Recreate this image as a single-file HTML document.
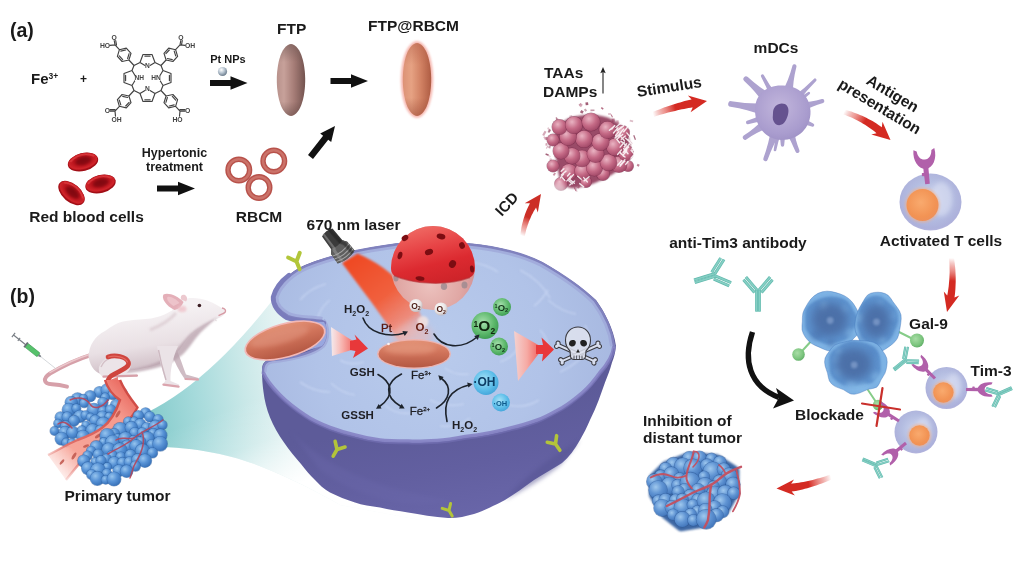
<!DOCTYPE html>
<html lang="en"><head><meta charset="utf-8"><title>FTP@RBCM scheme</title>
<style>
html,body{margin:0;padding:0;background:#fff;}
body{width:1024px;height:561px;overflow:hidden;}
svg{display:block;font-family:"Liberation Sans",sans-serif;}
</style></head><body>
<svg width="1024" height="561" viewBox="0 0 1024 561">
<defs>
<filter id="gsoft" color-interpolation-filters="sRGB" x="0" y="0" width="1024" height="561" filterUnits="userSpaceOnUse"><feGaussianBlur stdDeviation="0.45"/></filter>
<linearGradient id="ftpG" x1="0" y1="0" x2="1" y2="0">
<stop offset="0" stop-color="#b8928c"/><stop offset="0.25" stop-color="#c7a19a"/><stop offset="0.6" stop-color="#a67d77"/><stop offset="1" stop-color="#73534f"/></linearGradient>
<linearGradient id="ftpV" x1="0" y1="0" x2="0" y2="1">
<stop offset="0" stop-color="#6a5350" stop-opacity="0.55"/><stop offset="0.25" stop-color="#6a5350" stop-opacity="0"/><stop offset="0.8" stop-color="#5a3f3c" stop-opacity="0"/><stop offset="1" stop-color="#5a3f3c" stop-opacity="0.5"/></linearGradient>
<linearGradient id="frG" x1="0" y1="0" x2="1" y2="0">
<stop offset="0" stop-color="#dc9276"/><stop offset="0.3" stop-color="#e6a283"/><stop offset="0.65" stop-color="#d08062"/><stop offset="1" stop-color="#ae5c43"/></linearGradient>
<linearGradient id="frV" x1="0" y1="0" x2="0" y2="1">
<stop offset="0" stop-color="#b5604a" stop-opacity="0.5"/><stop offset="0.3" stop-color="#b5604a" stop-opacity="0"/><stop offset="0.75" stop-color="#9c4a36" stop-opacity="0"/><stop offset="1" stop-color="#9c4a36" stop-opacity="0.55"/></linearGradient>
<radialGradient id="ptG" cx="0.38" cy="0.32" r="0.75">
<stop offset="0" stop-color="#ffffff"/><stop offset="0.45" stop-color="#b9c6d2"/><stop offset="1" stop-color="#5e6f80"/></radialGradient>
<radialGradient id="rbcG" cx="0.5" cy="0.42" r="0.62">
<stop offset="0" stop-color="#8d0a12"/><stop offset="0.45" stop-color="#b5121b"/><stop offset="0.8" stop-color="#d0242a"/><stop offset="1" stop-color="#a30f17"/></radialGradient>
<filter id="soft" color-interpolation-filters="sRGB" x="-20%" y="-20%" width="140%" height="140%"><feGaussianBlur stdDeviation="0.5"/></filter>
<filter id="soft1" color-interpolation-filters="sRGB" x="-20%" y="-20%" width="140%" height="140%"><feGaussianBlur stdDeviation="1"/></filter>
<filter id="soft2" color-interpolation-filters="sRGB" x="-30%" y="-30%" width="160%" height="160%"><feGaussianBlur stdDeviation="2"/></filter>
<filter id="soft4" color-interpolation-filters="sRGB" x="-40%" y="-40%" width="180%" height="180%"><feGaussianBlur stdDeviation="4"/></filter>
<linearGradient id="coneG" gradientUnits="userSpaceOnUse" x1="150" y1="430" x2="345" y2="400">
<stop offset="0" stop-color="#84cbcb"/><stop offset="0.25" stop-color="#a5dadb"/><stop offset="0.5" stop-color="#c9e8e8"/><stop offset="0.7" stop-color="#e2f2f2"/><stop offset="1" stop-color="#f6fbfb"/></linearGradient>
<linearGradient id="coneFade" gradientUnits="userSpaceOnUse" x1="262" y1="395" x2="296" y2="485">
<stop offset="0" stop-color="#fff" stop-opacity="0"/><stop offset="0.45" stop-color="#fff" stop-opacity="0.2"/><stop offset="1" stop-color="#fff" stop-opacity="1"/></linearGradient>
<linearGradient id="bodyG" gradientUnits="userSpaceOnUse" x1="420" y1="420" x2="440" y2="525">
<stop offset="0" stop-color="#5d5b99"/><stop offset="0.5" stop-color="#625fa0"/><stop offset="1" stop-color="#6966a9"/></linearGradient>
<radialGradient id="surfG" gradientUnits="userSpaceOnUse" cx="430" cy="350" r="190">
<stop offset="0" stop-color="#b9cbec"/><stop offset="0.6" stop-color="#b1c3e8"/><stop offset="1" stop-color="#a7b8e0"/></radialGradient>
<linearGradient id="sphG" gradientUnits="userSpaceOnUse" x1="425" y1="226" x2="440" y2="285">
<stop offset="0" stop-color="#ef6862"/><stop offset="0.35" stop-color="#e74446"/><stop offset="0.65" stop-color="#dc2a30"/><stop offset="1" stop-color="#cd2329"/></linearGradient>
<radialGradient id="sphLow" gradientUnits="userSpaceOnUse" cx="430" cy="285" r="45">
<stop offset="0" stop-color="#ecc2be"/><stop offset="0.7" stop-color="#e0a7a4"/><stop offset="1" stop-color="#d49496"/></radialGradient>
<linearGradient id="beamG" gradientUnits="userSpaceOnUse" x1="349" y1="258" x2="414" y2="340">
<stop offset="0" stop-color="#ef4822"/><stop offset="0.5" stop-color="#f0603e"/><stop offset="0.8" stop-color="#f28672" stop-opacity="0.9"/><stop offset="1" stop-color="#f5b0a8" stop-opacity="0"/></linearGradient>
<linearGradient id="lasG" gradientUnits="userSpaceOnUse" x1="0" y1="0" x2="20" y2="0">
<stop offset="0" stop-color="#2c2c2c"/><stop offset="0.35" stop-color="#707070"/><stop offset="0.6" stop-color="#4a4a4a"/><stop offset="1" stop-color="#1e1e1e"/></linearGradient>
<linearGradient id="npH" x1="0" y1="0" x2="0" y2="1">
<stop offset="0" stop-color="#e29074"/><stop offset="0.45" stop-color="#d0735a"/><stop offset="1" stop-color="#b45843"/></linearGradient>
<radialGradient id="bubW" cx="0.4" cy="0.35" r="0.7">
<stop offset="0" stop-color="#ffffff"/><stop offset="0.6" stop-color="#e9e4e4"/><stop offset="1" stop-color="#b9b0b4"/></radialGradient>
<radialGradient id="bubG" cx="0.42" cy="0.38" r="0.7">
<stop offset="0" stop-color="#a6dfad"/><stop offset="0.6" stop-color="#5cb86b"/><stop offset="1" stop-color="#36954d"/></radialGradient>
<radialGradient id="bubB" cx="0.42" cy="0.38" r="0.7">
<stop offset="0" stop-color="#a6e2f7"/><stop offset="0.6" stop-color="#5cbde9"/><stop offset="1" stop-color="#3d9fd6"/></radialGradient>
<linearGradient id="coneR1" gradientUnits="userSpaceOnUse" x1="328" y1="0" x2="368" y2="0">
<stop offset="0" stop-color="#ffffff" stop-opacity="0.85"/><stop offset="0.35" stop-color="#f7b3ae"/><stop offset="0.7" stop-color="#ef5c58"/><stop offset="1" stop-color="#e8383a"/></linearGradient>
<linearGradient id="coneR2" gradientUnits="userSpaceOnUse" x1="513" y1="0" x2="553" y2="0">
<stop offset="0" stop-color="#fbd5d0" stop-opacity="0.9"/><stop offset="0.35" stop-color="#f6aaa4"/><stop offset="0.7" stop-color="#ef5c58"/><stop offset="1" stop-color="#e8383a"/></linearGradient>
<clipPath id="surfClip"><path d="M263,372 C263,364 266,361 272,360 C290,358 312,354 322,345 C327,339 327,327 322,321 C312,319 297,320 288,316 C279,311 274,304 274.5,297 C279,283 292,272 306,266 C330,256 365,248.5 396,244.5 C420,242 450,242 470,244.5 C500,247.5 526,255 542,263 C563,275 583,289 595,301 C603,312 612,328 614,346 C613,356 606,366 600,372.5 C594,381 589,387 582.5,392.5 C576,398 570,403 562.5,407.5 C554,412 546,417 537.5,420 C529,423 520,426 512.5,427.5 C500,431 480,435 465.5,436.5 C455,438.5 446,440 437,440.5 C428,441 418,441.5 408.5,441 C398,441 388,441 380,440 C371,439 362,437 355,435 C346,433 338,430.5 330,427.5 C321,424 312,420 305,415 C296,409 287,402 280,395 C273,388 266,380 263,372 Z"/></clipPath>
<radialGradient id="tbG" cx="0.36" cy="0.32" r="0.8">
<stop offset="0" stop-color="#96c4ee"/><stop offset="0.45" stop-color="#5893d6"/><stop offset="0.85" stop-color="#3a74bb"/><stop offset="1" stop-color="#2b5c9c"/></radialGradient>
<radialGradient id="tpG" cx="0.38" cy="0.32" r="0.8">
<stop offset="0" stop-color="#e9b3c2"/><stop offset="0.5" stop-color="#c56a86"/><stop offset="1" stop-color="#963e5e"/></radialGradient>
<linearGradient id="mouseG" gradientUnits="userSpaceOnUse" x1="130" y1="315" x2="140" y2="380">
<stop offset="0" stop-color="#f5f1f3"/><stop offset="0.5" stop-color="#e9e0e4"/><stop offset="1" stop-color="#c5b0b9"/></linearGradient>
<linearGradient id="vesG" gradientUnits="userSpaceOnUse" x1="135" y1="395" x2="50" y2="475">
<stop offset="0" stop-color="#ea6a60"/><stop offset="0.22" stop-color="#f59a8e"/><stop offset="0.7" stop-color="#f7a599"/><stop offset="1" stop-color="#f9b9b0" stop-opacity="0"/></linearGradient>
<linearGradient id="vesE" gradientUnits="userSpaceOnUse" x1="135" y1="395" x2="50" y2="475">
<stop offset="0" stop-color="#cf4a44"/><stop offset="0.7" stop-color="#e0706a"/><stop offset="1" stop-color="#ea8f88" stop-opacity="0"/></linearGradient>
<radialGradient id="dcG" cx="0.45" cy="0.4" r="0.7">
<stop offset="0" stop-color="#c2b6dc"/><stop offset="0.7" stop-color="#a99cce"/><stop offset="1" stop-color="#9a8dc2"/></radialGradient>
<radialGradient id="tcG" cx="0.5" cy="0.45" r="0.6">
<stop offset="0" stop-color="#ced5ee"/><stop offset="0.55" stop-color="#b4bde1"/><stop offset="0.85" stop-color="#adb1db"/><stop offset="1" stop-color="#bcb7e0"/></radialGradient>
<radialGradient id="nuG" cx="0.45" cy="0.42" r="0.65">
<stop offset="0" stop-color="#f9aa6e"/><stop offset="0.7" stop-color="#f29354"/><stop offset="1" stop-color="#ec8f5c"/></radialGradient>
<radialGradient id="bcG" cx="0.45" cy="0.4" r="0.7">
<stop offset="0" stop-color="#4a7fc4"/><stop offset="0.25" stop-color="#3c72bb"/><stop offset="0.6" stop-color="#4f90d6"/><stop offset="0.9" stop-color="#5fa2e2"/><stop offset="1" stop-color="#4784cc"/></radialGradient>
<radialGradient id="tbG2" cx="0.38" cy="0.34" r="0.8">
<stop offset="0" stop-color="#9fc8ee"/><stop offset="0.45" stop-color="#6094d3"/><stop offset="0.85" stop-color="#4377bc"/><stop offset="1" stop-color="#32609f"/></radialGradient>
<radialGradient id="gbG" cx="0.4" cy="0.38" r="0.7">
<stop offset="0" stop-color="#a8dda6"/><stop offset="0.65" stop-color="#7cc57e"/><stop offset="1" stop-color="#5aa862"/></radialGradient>
<linearGradient id="ra1" gradientUnits="userSpaceOnUse" x1="522.5" y1="236" x2="541" y2="194"><stop offset="0" stop-color="#cc2e26" stop-opacity="0"/><stop offset="0.2" stop-color="#e25a52" stop-opacity="0.6"/><stop offset="0.42" stop-color="#cc2e26"/><stop offset="1" stop-color="#cc2e26"/></linearGradient>
<linearGradient id="ra2" gradientUnits="userSpaceOnUse" x1="653" y1="114.5" x2="707" y2="101"><stop offset="0" stop-color="#d42a22" stop-opacity="0"/><stop offset="0.2" stop-color="#e25a52" stop-opacity="0.6"/><stop offset="0.42" stop-color="#d42a22"/><stop offset="1" stop-color="#d42a22"/></linearGradient>
<linearGradient id="ra3" gradientUnits="userSpaceOnUse" x1="844" y1="112" x2="890.5" y2="140"><stop offset="0" stop-color="#d42a22" stop-opacity="0"/><stop offset="0.2" stop-color="#e25a52" stop-opacity="0.6"/><stop offset="0.42" stop-color="#d42a22"/><stop offset="1" stop-color="#d42a22"/></linearGradient>
<linearGradient id="ra4" gradientUnits="userSpaceOnUse" x1="951.5" y1="258" x2="947" y2="312"><stop offset="0" stop-color="#d42a22" stop-opacity="0"/><stop offset="0.2" stop-color="#e25a52" stop-opacity="0.6"/><stop offset="0.42" stop-color="#d42a22"/><stop offset="1" stop-color="#d42a22"/></linearGradient>
<linearGradient id="ra5" gradientUnits="userSpaceOnUse" x1="831" y1="477" x2="776.5" y2="488.5"><stop offset="0" stop-color="#d42a22" stop-opacity="0"/><stop offset="0.2" stop-color="#e25a52" stop-opacity="0.6"/><stop offset="0.42" stop-color="#d42a22"/><stop offset="1" stop-color="#d42a22"/></linearGradient>
<clipPath id="bc6"><path d="M862.1,317.7 Q865.1,321.5 864.4,325.9 Q863.7,330.3 859.8,333.1 Q855.8,336.0 853.2,338.9 Q850.6,341.9 847.9,345.6 Q845.3,349.4 840.8,350.4 Q836.3,351.4 831.7,351.2 Q827.2,351.0 823.2,349.0 Q819.2,347.0 815.1,345.4 Q811.0,343.8 808.1,340.6 Q805.1,337.5 803.3,333.6 Q801.5,329.8 802.0,325.6 Q802.5,321.5 802.4,317.5 Q802.3,313.4 804.2,309.8 Q806.1,306.1 808.4,302.4 Q810.6,298.8 814.2,295.8 Q817.7,292.9 822.3,291.8 Q827.0,290.6 831.5,291.6 Q836.1,292.6 840.3,294.0 Q844.5,295.4 847.8,297.9 Q851.2,300.4 853.5,303.8 Q855.7,307.1 857.4,310.5 Q859.1,314.0 862.1,317.7 Z"/></clipPath>
<clipPath id="bc7"><path d="M901.2,318.8 Q900.9,323.0 900.2,326.9 Q899.5,330.8 898.7,334.7 Q897.8,338.7 895.3,341.3 Q892.8,344.0 890.0,345.9 Q887.2,347.9 884.3,349.8 Q881.4,351.7 877.9,353.0 Q874.3,354.3 870.9,352.7 Q867.5,351.2 864.5,348.8 Q861.6,346.3 860.2,342.2 Q858.8,338.2 856.8,334.8 Q854.8,331.4 854.9,327.2 Q854.9,323.0 855.6,319.1 Q856.3,315.2 857.7,311.6 Q859.2,308.1 861.1,305.0 Q863.0,301.8 865.2,298.0 Q867.3,294.2 870.8,293.2 Q874.4,292.2 878.0,292.2 Q881.6,292.3 885.0,293.5 Q888.5,294.8 890.7,298.3 Q892.9,301.9 895.2,304.7 Q897.5,307.6 899.5,311.0 Q901.5,314.5 901.2,318.8 Z"/></clipPath>
<clipPath id="bc8"><path d="M887.2,361.9 Q887.0,366.0 886.1,369.8 Q885.3,373.6 882.9,376.8 Q880.6,380.0 879.1,384.0 Q877.6,388.1 872.7,388.5 Q867.7,388.9 863.9,391.1 Q860.2,393.2 855.5,394.1 Q850.9,395.1 847.2,392.1 Q843.5,389.2 839.2,388.1 Q834.9,387.0 831.8,384.1 Q828.7,381.2 828.3,377.2 Q827.8,373.1 826.3,369.6 Q824.8,366.0 824.6,362.0 Q824.4,358.0 826.9,354.6 Q829.4,351.3 831.8,347.8 Q834.3,344.4 838.8,343.4 Q843.4,342.4 847.4,341.2 Q851.4,340.0 855.7,340.3 Q859.9,340.6 864.3,340.8 Q868.8,341.0 873.3,342.3 Q877.8,343.7 880.2,347.3 Q882.6,350.9 885.0,354.4 Q887.3,357.9 887.2,361.9 Z"/></clipPath>
</defs>
<rect width="1024" height="561" fill="#ffffff"/>
<g filter="url(#gsoft)">
<!-- section a -->
<g><path d="M147.5,67.0L140.0,62.5 M147.5,67.0L155.0,62.5 M140.0,62.5L143.0,54.5 M155.0,62.5L152.0,54.5 M143.0,54.5L152.0,54.5 M144.8,56.1L150.2,56.1 M147.5,89.0L155.0,93.5 M147.5,89.0L140.0,93.5 M155.0,93.5L152.0,101.5 M140.0,93.5L143.0,101.5 M152.0,101.5L143.0,101.5 M150.2,99.9L144.8,99.9 M136.5,78.0L132.0,85.5 M136.5,78.0L132.0,70.5 M132.0,85.5L124.0,82.5 M132.0,70.5L124.0,73.5 M124.0,82.5L124.0,73.5 M125.6,80.7L125.6,75.3 M158.5,78.0L163.0,70.5 M158.5,78.0L163.0,85.5 M163.0,70.5L171.0,73.5 M163.0,85.5L171.0,82.5 M171.0,73.5L171.0,82.5 M169.4,75.3L169.4,80.7 M140.0,62.5L134.0,65.5 M155.0,62.5L161.0,65.5 M155.0,93.5L161.0,90.5 M140.0,93.5L134.0,90.5 M132.0,85.5L134.0,90.5 M132.0,70.5L134.0,65.5 M163.0,70.5L161.0,65.5 M163.0,85.5L161.0,90.5 M119.4,49.7L126.3,48.1 M126.3,48.1L131.0,53.3 M131.0,53.3L128.9,60.0 M128.9,60.0L122.1,61.5 M122.1,61.5L117.4,56.4 M117.4,56.4L119.4,49.7 M120.8,51.1L125.7,50.0 M129.1,53.7L127.6,58.5 M122.7,59.6L119.3,55.9 M134.0,65.5L128.9,60.0 M119.4,49.7L115.0,44.9 M115.0,44.9L114.2,40.5 M116.5,44.9L115.7,40.5 M115.0,44.9L110.0,45.4 M175.6,49.7L177.6,56.4 M177.6,56.4L172.9,61.5 M172.9,61.5L166.1,60.0 M166.1,60.0L164.0,53.3 M164.0,53.3L168.7,48.1 M168.7,48.1L175.6,49.7 M174.2,51.1L175.7,55.9 M172.3,59.6L167.4,58.5 M165.9,53.7L169.3,50.0 M161.0,65.5L166.1,60.0 M175.6,49.7L180.0,44.9 M180.0,44.9L180.8,40.5 M181.5,44.9L182.3,40.5 M180.0,44.9L185.0,45.4 M175.6,106.3L168.7,107.9 M168.7,107.9L164.0,102.7 M164.0,102.7L166.1,96.0 M166.1,96.0L172.9,94.5 M172.9,94.5L177.6,99.6 M177.6,99.6L175.6,106.3 M174.2,104.9L169.3,106.0 M165.9,102.3L167.4,97.5 M172.3,96.4L175.7,100.1 M161.0,90.5L166.1,96.0 M175.6,106.3L180.0,111.1 M180.0,111.1L185.0,111.1 M180.0,109.6L185.0,109.6 M180.0,111.1L179.5,116.1 M119.4,106.3L117.4,99.6 M117.4,99.6L122.1,94.5 M122.1,94.5L128.9,96.0 M128.9,96.0L131.0,102.7 M131.0,102.7L126.3,107.9 M126.3,107.9L119.4,106.3 M120.8,104.9L119.3,100.1 M122.7,96.4L127.6,97.5 M129.1,102.3L125.7,106.0 M134.0,90.5L128.9,96.0 M119.4,106.3L115.0,111.1 M115.0,111.1L110.0,111.1 M115.0,109.6L110.0,109.6 M115.0,111.1L115.5,116.1" stroke="#424242" stroke-width="1.15" fill="none" stroke-linecap="round"/><text x="114.2" y="39.5" font-size="6.8" font-weight="bold" text-anchor="middle" fill="#424242">O</text><text x="105.0" y="47.5" font-size="6.8" font-weight="bold" text-anchor="middle" fill="#424242">HO</text><text x="180.8" y="39.5" font-size="6.8" font-weight="bold" text-anchor="middle" fill="#424242">O</text><text x="190.0" y="47.5" font-size="6.8" font-weight="bold" text-anchor="middle" fill="#424242">OH</text><text x="187.6" y="112.7" font-size="6.8" font-weight="bold" text-anchor="middle" fill="#424242">O</text><text x="177.5" y="121.6" font-size="6.8" font-weight="bold" text-anchor="middle" fill="#424242">HO</text><text x="107.4" y="112.7" font-size="6.8" font-weight="bold" text-anchor="middle" fill="#424242">O</text><text x="116.5" y="121.6" font-size="6.8" font-weight="bold" text-anchor="middle" fill="#424242">OH</text><rect x="145.3" y="63.4" width="4.4" height="6" fill="#fff"/><text x="147.5" y="68.4" font-size="6.6" font-weight="bold" text-anchor="middle" fill="#424242">N</text><rect x="145.3" y="86.2" width="4.4" height="6" fill="#fff"/><text x="147.5" y="91.2" font-size="6.6" font-weight="bold" text-anchor="middle" fill="#424242">N</text><rect x="134.9" y="75.0" width="8.8" height="6" fill="#fff"/><text x="139.3" y="80" font-size="6.6" font-weight="bold" text-anchor="middle" fill="#424242">NH</text><rect x="151.5" y="75.0" width="8.8" height="6" fill="#fff"/><text x="155.9" y="80" font-size="6.6" font-weight="bold" text-anchor="middle" fill="#424242">HN</text></g>
<circle cx="222.5" cy="71.5" r="4.6" fill="url(#ptG)"/>
<polygon fill="#111" points="210.0,86.0 230.5,86.0 230.5,89.8 247.5,83.0 230.5,76.2 230.5,80.0 210.0,80.0"/>
<polygon fill="#111" points="330.5,84.0 351.0,84.0 351.0,87.8 368.0,81.0 351.0,74.2 351.0,78.0 330.5,78.0"/>
<polygon fill="#111" points="157.0,191.5 178.0,191.5 178.0,195.2 195.0,188.5 178.0,181.8 178.0,185.5 157.0,185.5"/>
<polygon fill="#111" points="313.0,159.0 328.2,139.8 331.2,142.1 335.0,126.0 320.2,133.4 323.1,135.8 308.0,155.0"/>
<path d="M291,44 C301.65,46 305.2,65.744 305.2,80 C305.2,94.256 301.65,114 291,116 C280.35,114 276.8,94.256 276.8,80 C276.8,65.744 280.35,46 291,44 Z" fill="url(#ftpG)"/>
<path d="M291,44 C301.65,46 305.2,65.744 305.2,80 C305.2,94.256 301.65,114 291,116 C280.35,114 276.8,94.256 276.8,80 C276.8,65.744 280.35,46 291,44 Z" fill="url(#ftpV)"/>
<path d="M417,41.0 C429.15,43.0 433.2,64.254 433.2,79.5 C433.2,94.746 429.15,116.0 417,118.0 C404.85,116.0 400.8,94.746 400.8,79.5 C400.8,64.254 404.85,43.0 417,41.0 Z" fill="#f6b9b2" filter="url(#soft1)"/>
<path d="M417,43.0 C427.65,45.0 431.2,65.04599999999999 431.2,79.5 C431.2,93.95400000000001 427.65,114.0 417,116.0 C406.35,114.0 402.8,93.95400000000001 402.8,79.5 C402.8,65.04599999999999 406.35,45.0 417,43.0 Z" fill="url(#frG)"/>
<path d="M417,43.0 C427.65,45.0 431.2,65.04599999999999 431.2,79.5 C431.2,93.95400000000001 427.65,114.0 417,116.0 C406.35,114.0 402.8,93.95400000000001 402.8,79.5 C402.8,65.04599999999999 406.35,45.0 417,43.0 Z" fill="url(#frV)"/>
<g transform="translate(83 162) rotate(-14)"><ellipse rx="15.5" ry="9" fill="#a10e16"/><ellipse rx="14.7" ry="8.2" cy="-0.6" fill="url(#rbcG)"/><ellipse cx="0.5" cy="-0.8" rx="7.75" ry="3.78" fill="#7d0810" opacity="0.75" filter="url(#soft1)"/><path d="M-12.4,-3.15 Q0,-11.25 12.4,-3.15" stroke="#e8484a" stroke-width="1.6" fill="none" opacity="0.7" filter="url(#soft)"/></g>
<g transform="translate(100.5 184) rotate(-14)"><ellipse rx="15.5" ry="9" fill="#a10e16"/><ellipse rx="14.7" ry="8.2" cy="-0.6" fill="url(#rbcG)"/><ellipse cx="0.5" cy="-0.8" rx="7.75" ry="3.78" fill="#7d0810" opacity="0.75" filter="url(#soft1)"/><path d="M-12.4,-3.15 Q0,-11.25 12.4,-3.15" stroke="#e8484a" stroke-width="1.6" fill="none" opacity="0.7" filter="url(#soft)"/></g>
<g transform="translate(71.5 193) rotate(40)"><ellipse rx="15.5" ry="9" fill="#a10e16"/><ellipse rx="14.7" ry="8.2" cy="-0.6" fill="url(#rbcG)"/><ellipse cx="0.5" cy="-0.8" rx="7.75" ry="3.78" fill="#7d0810" opacity="0.75" filter="url(#soft1)"/><path d="M-12.4,-3.15 Q0,-11.25 12.4,-3.15" stroke="#e8484a" stroke-width="1.6" fill="none" opacity="0.7" filter="url(#soft)"/></g>
<circle cx="238.8" cy="170" r="10.8" fill="none" stroke="#b8524b" stroke-width="5.4"/><circle cx="238.8" cy="170" r="10.8" fill="none" stroke="#cf7a70" stroke-width="2.43" opacity="0.8"/>
<circle cx="273.8" cy="161" r="10.8" fill="none" stroke="#b8524b" stroke-width="5.4"/><circle cx="273.8" cy="161" r="10.8" fill="none" stroke="#cf7a70" stroke-width="2.43" opacity="0.8"/>
<circle cx="259" cy="187.5" r="10.8" fill="none" stroke="#b8524b" stroke-width="5.4"/><circle cx="259" cy="187.5" r="10.8" fill="none" stroke="#cf7a70" stroke-width="2.43" opacity="0.8"/>
<!-- cone -->
<path d="M148,412 Q216,378 287,281 L420,330 L420,520 L340,505 C318,492 290,478 262,467 C240,458 205,448 160,447 Z" fill="url(#coneG)"/>
<path d="M148,412 Q216,378 287,281 L420,330 L420,520 L340,505 C318,492 290,478 262,467 C240,458 205,448 160,447 Z" fill="url(#coneFade)"/>
<!-- cell body -->
<path d="M262,370 C262,362 266,360 272,359 L322,345 L322,321 C300,320 276,312 273,297 C278,283 291,271 305,265 C330,255 365,247.5 396,243.5 C420,241 450,241 470,243.5 C500,246.5 526,254 542,262 C563,274 583,288 596,300 C604,311 613.5,328 616,346 C615.5,352 614,358 612,362.5 C610,370 607.5,376 605,382.5 C603,388 601,394 598.75,400 C596,407 593,414 590,420 C587,427 583.5,434 580,440 C575,449 569,457 562,463 C553,469 543,474 534,480 C524,487 515,494 505,500 C495,505 484,511 474,514 C465,516.5 456,518.5 448,518 C434,517 420,514.5 408,512.5 C398,511 389,509.5 380,507.5 C371,506 362,505 355,502.5 C346,499.5 338,496.5 330,492.5 C324,489 319,484.5 315,480 C310,475 305,469.5 301,464 C295,457 289,450 284,442.5 C278,434 273.5,426 270,417.5 C266.5,409 264.5,400 263.5,392 C262.5,385 262,378 262,370 Z" fill="url(#bodyG)"/>
<path d="M580,440 C560,452 530,470 505,500 C520,492 552,474 562,463 Z" fill="#555391" opacity="0.5" filter="url(#soft2)"/>
<path d="M290,430 C320,465 380,490 450,500 C420,512 360,500 320,470 Z" fill="#6c69ac" opacity="0.35" filter="url(#soft2)"/>
<path d="M263,372 C263,364 266,361 272,360 C290,358 312,354 322,345 C327,339 327,327 322,321 C312,319 297,320 288,316 C279,311 274,304 274.5,297 C279,283 292,272 306,266 C330,256 365,248.5 396,244.5 C420,242 450,242 470,244.5 C500,247.5 526,255 542,263 C563,275 583,289 595,301 C603,312 612,328 614,346 C613,356 606,366 600,372.5 C594,381 589,387 582.5,392.5 C576,398 570,403 562.5,407.5 C554,412 546,417 537.5,420 C529,423 520,426 512.5,427.5 C500,431 480,435 465.5,436.5 C455,438.5 446,440 437,440.5 C428,441 418,441.5 408.5,441 C398,441 388,441 380,440 C371,439 362,437 355,435 C346,433 338,430.5 330,427.5 C321,424 312,420 305,415 C296,409 287,402 280,395 C273,388 266,380 263,372 Z" fill="url(#surfG)"/>
<g clip-path="url(#surfClip)" filter="url(#soft1)" opacity="0.55" stroke="#d3dff8" fill="none" stroke-width="1.6"><path d="M520,270 q20,10 30,28"/><path d="M548,300 q14,12 28,14"/><path d="M560,372 q18,-8 30,-24"/><path d="M505,404 q18,6 34,-4"/><path d="M470,418 q-12,10 -30,8"/><path d="M300,382 q14,10 30,10"/><path d="M340,360 q10,6 24,2"/><path d="M360,284 q14,-8 30,-6"/><path d="M300,300 q10,-12 26,-16"/><path d="M385,405 q10,10 26,8"/><path d="M540,330 q10,10 8,24"/><path d="M548,290 q-6,10 -14,16"/><path d="M585,325 q6,12 4,22"/><path d="M470,262 q16,2 28,10"/><path d="M330,300 q-10,8 -12,18"/><path d="M430,400 q16,8 34,4"/><path d="M355,395 q-14,-2 -24,-12"/><path d="M500,362 q12,-4 18,-14"/><path d="M445,368 q10,8 24,6"/></g>
<path d="M263,372 C266,380 273,388 280,395 C287,402 296,409 305,415 C312,420 321,424 330,427.5 C338,430.5 346,433 355,435 C362,437 371,439 380,440 C388,441 398,441 408.5,441 C418,441.5 428,441 437,440.5 C446,440 455,438.5 465.5,436.5 C480,435 500,431 512.5,427.5 C520,426 529,423 537.5,420 C546,417 554,412 562.5,407.5 C570,403 576,398 582.5,392.5 C589,387 594,381 600,372.5 C606,366 613,356 614,346" fill="none" stroke="#8886c6" stroke-width="3.6" opacity="0.95"/>
<path d="M263,372 C266,380 273,388 280,395 C287,402 296,409 305,415 C312,420 321,424 330,427.5 C338,430.5 346,433 355,435 C362,437 371,439 380,440 C388,441 398,441 408.5,441 C418,441.5 428,441 437,440.5 C446,440 455,438.5 465.5,436.5 C480,435 500,431 512.5,427.5 C520,426 529,423 537.5,420 C546,417 554,412 562.5,407.5 C570,403 576,398 582.5,392.5 C589,387 594,381 600,372.5 C606,366 613,356 614,346" fill="none" stroke="#726fb2" stroke-width="1.6" opacity="0.7" transform="translate(0 2.4)" filter="url(#soft)"/>
<g clip-path="url(#surfClip)"><path d="M322,321 C312,319 297,320 288,316 C279,311 274,304 274.5,297 C279,283 292,272 306,266 C330,256 365,248.5 396,244.5 C420,242 450,242 470,244.5 C500,247.5 526,255 542,263 C563,275 583,289 595,301 C603,312 612,328 614,346" fill="none" stroke="#9ea6d8" stroke-width="8" opacity="0.75" filter="url(#soft)"/><path d="M263,372 C263,364 266,361 272,360 C290,358 312,354 322,345 C327,339 327,327 322,321" fill="none" stroke="#9ea6d8" stroke-width="7" opacity="0.7" filter="url(#soft)"/></g>
<path d="M322,321 C312,319 297,320 288,316 C279,311 274,304 274.5,297 C279,283 292,272 306,266 C330,256 365,248.5 396,244.5 C420,242 450,242 470,244.5 C500,247.5 526,255 542,263 C563,275 583,289 595,301 C603,312 612,328 614,346" fill="none" stroke="#8082be" stroke-width="2.4" stroke-linecap="round"/>
<path d="M263,372 C263,364 266,361 272,360 C290,358 312,354 322,345 C327,339 327,327 322,321" fill="none" stroke="#8082be" stroke-width="2.4" stroke-linecap="round"/>
<path d="M324,323 C312,321.5 297,322 287,318 C278,313 272.5,305 273,297 C275,289 281,281 289,275" fill="none" stroke="#7a7cbc" stroke-width="4.4" stroke-linecap="round"/>
<path d="M296,321 L324,322 C328,328 328,340 322,346 L296,354 Z" fill="#99a7df"/>
<g transform="translate(285 340.5) rotate(-15.5)"><ellipse rx="42" ry="17.5" fill="#f2b8b6"/><ellipse rx="40.2" ry="15.8" fill="url(#npH)"/><ellipse cx="-4" cy="-5" rx="30" ry="7" fill="#e0957f" opacity="0.55" filter="url(#soft2)"/></g>
<path d="M331,327 L332,356 L353,349.5 L353,341 Z" fill="url(#coneR1)" filter="url(#soft)"/>
<path d="M351,336 L351,351 L355,349 L368,349.5 L356,334 Z" fill="#e63a3c" opacity="0"/>
<path d="M350,341 L356.5,339.5 L354.5,334.5 L368,348.5 L353,358 L355.5,351 L350,350 Z" fill="#e8383a" filter="url(#soft)"/>
<path d="M342,263 L357.5,253.5 C375,261 393,273 406,289 C416,303 423,318 428,334 L399,341 L372,303 Z" fill="url(#beamG)" filter="url(#soft1)"/>
<ellipse cx="412" cy="336" rx="20" ry="12" fill="#f6b3a8" opacity="0.55" filter="url(#soft4)"/>
<g transform="translate(328.2 233.6) rotate(-37.5)"><path d="M-6.6,-1.5 Q0,-4.5 6.6,-1.5 L7.2,14 L10.2,18 L10.6,29.5 Q0,33.5 -10.6,29.5 L-10.2,18 L-7.2,14 Z" fill="#3b3b3b"/><path d="M-7.2,14 L-10.2,18 L-10.6,29.5 Q0,33.5 10.6,29.5 L10.2,18 L7.2,14 Q0,16.5 -7.2,14 Z" fill="#5e5e5e"/><path d="M-3.6,-2.6 L-4,14 L-5.6,18 L-5.8,30.5" stroke="#a8a8a8" stroke-width="3" fill="none" opacity="0.45" filter="url(#soft)"/><path d="M-10.3,20.5 Q0,24.5 10.3,20.5 M-10.5,24 Q0,28 10.5,24 M-10.6,27.2 Q0,31.2 10.6,27.2" stroke="#a6a6a6" stroke-width="1" fill="none"/><path d="M3.5,-2.5 L4.5,14 L7,18 L7.4,30.5" stroke="#1c1c1c" stroke-width="3.4" fill="none" opacity="0.5" filter="url(#soft)"/></g>
<g><circle cx="433" cy="268" r="42" fill="url(#sphLow)"/><g fill="#9c8a90" opacity="0.8"><ellipse cx="396" cy="278" rx="2.6" ry="3.4"/><ellipse cx="444" cy="286.5" rx="3.2" ry="3.4"/><ellipse cx="464.5" cy="285" rx="3" ry="3.6"/></g><path d="M391,268 A42,42 0 0 1 475,268 Q475,275 470,277.5 Q452,284 430,283 Q408,282 394,275.5 Q391,273 391,268 Z" fill="url(#sphG)"/><path d="M394,275.5 Q408,282 430,283 Q452,284 470,277.5" stroke="#b83238" stroke-width="1.5" fill="none" opacity="0.6" filter="url(#soft)"/><g fill="#7c0d12"><ellipse cx="405" cy="238" rx="3.6" ry="2.6" transform="rotate(-35 405 238)"/><ellipse cx="441" cy="236.5" rx="4.4" ry="2.7" transform="rotate(12 441 236.5)"/><ellipse cx="429" cy="252" rx="4.2" ry="3" transform="rotate(-20 429 252)"/><ellipse cx="462" cy="245.5" rx="2.8" ry="3.4" transform="rotate(-25 462 245.5)"/><ellipse cx="400" cy="255.5" rx="2.3" ry="3.8" transform="rotate(15 400 255.5)"/><ellipse cx="452.5" cy="264" rx="3.4" ry="4" transform="rotate(30 452.5 264)"/><ellipse cx="472" cy="269" rx="2" ry="3.6" transform="rotate(-8 472 269)"/><ellipse cx="420" cy="278.5" rx="4.5" ry="2.2" transform="rotate(8 420 278.5)"/></g></g>
<ellipse cx="414" cy="354" rx="37" ry="15" fill="#f0b2ad" opacity="0.9"/>
<ellipse cx="414" cy="354" rx="35.5" ry="13.6" fill="url(#npH)"/>
<ellipse cx="410" cy="349" rx="26" ry="5.5" fill="#e9a288" opacity="0.5" filter="url(#soft2)"/>
<circle cx="388.5" cy="344" r="1.3" fill="#fff" opacity="0.85"/>
<circle cx="423" cy="321.5" r="5.5" fill="#f6e4e0" opacity="0.8" filter="url(#soft1)"/>
<circle cx="416" cy="305.5" r="6.6" fill="url(#bubW)"/>
<circle cx="441" cy="309" r="6.6" fill="url(#bubW)"/>
<circle cx="485" cy="325.5" r="13.5" fill="url(#bubG)"/>
<circle cx="502" cy="307" r="9" fill="url(#bubG)"/>
<circle cx="499" cy="346.5" r="9" fill="url(#bubG)"/>
<circle cx="486" cy="382.5" r="12.5" fill="url(#bubB)"/>
<circle cx="501" cy="402.5" r="9" fill="url(#bubB)"/>
<path d="M514,331 L518,381 L540,352 L540,346 Z" fill="url(#coneR2)"/>
<path d="M536,345 L543,345 L541.5,337.5 L554,349.5 L542,361.5 L543,354 L536,354 Z" fill="#e8383a"/>
<path d="M363,318 C368,333 388,338 405,333" stroke="#1d232c" stroke-width="1.6" fill="none" stroke-linecap="round"/><polygon points="408.0,331.5 404.7,336.0 402.4,331.1" fill="#1d232c"/>
<path d="M434,334 C442,348 462,350 477,337" stroke="#1d232c" stroke-width="1.6" fill="none" stroke-linecap="round"/><polygon points="479.5,334.5 477.9,339.9 474.1,336.1" fill="#1d232c"/>
<path d="M378,374.5 C390,381 397,394 379.5,406.5" stroke="#1d232c" stroke-width="1.6" fill="none" stroke-linecap="round"/><polygon points="376.0,408.8 378.7,403.9 381.6,408.4" fill="#1d232c"/>
<path d="M401.5,374 C386,382 383,396 401,406.5" stroke="#1d232c" stroke-width="1.6" fill="none" stroke-linecap="round"/><polygon points="404.6,408.6 399.0,408.5 401.7,403.8" fill="#1d232c"/>
<path d="M436.5,408 C450,400 453,387 441,378" stroke="#1d232c" stroke-width="1.6" fill="none" stroke-linecap="round"/><polygon points="438.3,375.3 443.7,376.9 439.9,380.7" fill="#1d232c"/>
<path d="M447,421.5 C443,404 448,390 469,385" stroke="#1d232c" stroke-width="1.6" fill="none" stroke-linecap="round"/><polygon points="472.6,384.0 468.4,387.6 467.2,382.4" fill="#1d232c"/>
<g transform="translate(578 348.5) scale(1.0)" stroke="#3a3a40" stroke-width="1.1" fill="#dfe3ee" fill-opacity="0.85" stroke-linejoin="round"><g id="bone1" transform="rotate(24)"><path d="M-18,-1.6 L18,-1.6 Q19,-4.6 21.5,-3.6 Q23.5,-2 21.6,0 Q23.5,2 21.5,3.6 Q19,4.6 18,1.6 L-18,1.6 Q-19,4.6 -21.5,3.6 Q-23.5,2 -21.6,0 Q-23.5,-2 -21.5,-3.6 Q-19,-4.6 -18,-1.6 Z" transform="translate(0 5)"/></g><g transform="rotate(-24)"><path d="M-18,-1.6 L18,-1.6 Q19,-4.6 21.5,-3.6 Q23.5,-2 21.6,0 Q23.5,2 21.5,3.6 Q19,4.6 18,1.6 L-18,1.6 Q-19,4.6 -21.5,3.6 Q-23.5,2 -21.6,0 Q-23.5,-2 -21.5,-3.6 Q-19,-4.6 -18,-1.6 Z" transform="translate(0 5)"/></g><path d="M-12.5,-8 C-12.5,-26 12.5,-26 12.5,-8 C12.5,-2 10,0.5 8,2.5 L7.5,8 Q7,11 4,11 L-4,11 Q-7,11 -7.5,8 L-8,2.5 C-10,0.5 -12.5,-2 -12.5,-8 Z"/><path d="M-9,-5.6 q1,-3.8 5,-2.8 q2.6,1 1.5,4.2 q-1.3,2.8 -4.6,2 q-2.4,-0.9 -1.9,-3.4 Z" fill="#222" fill-opacity="1" stroke="none"/><path d="M9,-5.6 q-1,-3.8 -5,-2.8 q-2.6,1 -1.5,4.2 q1.3,2.8 4.6,2 q2.4,-0.9 1.9,-3.4 Z" fill="#222" fill-opacity="1" stroke="none"/><path d="M0,0.5 l-1.8,3.6 h3.6 Z" fill="#222" fill-opacity="1" stroke="none"/><path d="M-4,7 v3.6 M-1.4,7 v3.8 M1.4,7 v3.8 M4,7 v3.6" stroke-width="0.8"/></g>
<g transform="translate(296.5 261.5) rotate(-22) scale(1.05)" stroke="#b2c63a" stroke-width="3.8" stroke-linecap="round" fill="none"><path d="M0,8 L0,0 M0,0 L-6,-6.5 M0,0 L6,-6.5"/></g>
<g transform="translate(337 449.5) rotate(30) scale(0.95)" stroke="#b3c43a" stroke-width="3.8" stroke-linecap="round" fill="none"><path d="M0,8 L0,0 M0,0 L-6,-6.5 M0,0 L6,-6.5"/></g>
<g transform="translate(555.5 444) rotate(-35) scale(0.95)" stroke="#b3c43a" stroke-width="3.8" stroke-linecap="round" fill="none"><path d="M0,8 L0,0 M0,0 L-6,-6.5 M0,0 L6,-6.5"/></g>
<g transform="translate(449 510.5) rotate(-30) scale(0.8)" stroke="#b3c43a" stroke-width="3.8" stroke-linecap="round" fill="none"><path d="M0,8 L0,0 M0,0 L-6,-6.5 M0,0 L6,-6.5"/></g>
<!-- mouse -->
<g filter="url(#soft)">
<path d="M91,355 C78,359 62,366.5 50,373.5 C42.5,378.5 43.5,384 52,384.2 C58,384.6 63,385.6 67,386.6" stroke="#d6a0a9" stroke-width="4" fill="none" stroke-linecap="round"/>
<path d="M91,354 C78,358 62,365.5 50,372.5" stroke="#ebc7cc" stroke-width="1.4" fill="none" stroke-linecap="round"/>
<path d="M176,348 C180,357 183,367 186,374.5 L198.5,378 L198,380.5 L185,379.5 C179,371 174,361 171,352 Z" fill="#cfbcc4"/>
<path d="M185.5,379 L198,379.6" stroke="#dba4ad" stroke-width="2" stroke-linecap="round"/>
<path d="M88.5,357 C89,345 95,336 105,331 C112,326 118,322 126,321 C136,319.5 144,319.5 151,318.5 C160,317 166,314 172,310.5 C174,304 180,299.5 187,298.5 C194,297.5 201,298.5 207,300.5 C214,303 220,306.5 225,310 C226.5,312.5 224,315.5 220,317.5 C216,319 212,321.5 208,324 C200,328 194,332 190,336 C186,340 183,345 180,349 C176,354 170,359 163,362.5 C154,366.5 142,369 130,370.5 C122,372 112,375 104,374.5 C96,373.5 90.5,368 88.5,357 Z" fill="url(#mouseG)"/>
<path d="M98,369 C116,374 146,369 166,358 C176,352 182,342 190,334 C198,327 208,322 218,317 C210,324 202,330 196,338 C190,346 184,356 172,362 C156,370 136,372 120,374 C108,376 100,374 98,369 Z" fill="#b9a2ad" opacity="0.8" filter="url(#soft1)"/>
<path d="M150,330 C160,326 170,320 176,313" stroke="#d9c8ce" stroke-width="3" fill="none" opacity="0.7" filter="url(#soft1)"/>
<path d="M174.5,310 C166,306 161,298 163.5,294.5 C168,292 178,296 183.5,302 C182,306 179,309 174.5,310 Z" fill="#e4afb8"/>
<path d="M173.5,306 C168.5,303 166,298.5 167.5,297 C171,296 176.5,299.5 179.5,303 Z" fill="#edc3ca"/>
<path d="M181,299.5 C180,296 182,294 185,295 C187.5,296.5 187.5,300 186,301.5 Z" fill="#ecc9cf"/>
<ellipse cx="182" cy="309" rx="4.5" ry="3.2" fill="#efc3ca" opacity="0.8" filter="url(#soft1)"/>
<circle cx="199.4" cy="305.5" r="1.8" fill="#3a1c22"/>
<path d="M222,308 C225,308.6 226.4,310.4 225,312.4 C223,314 220.5,314.4 218.5,315.6" stroke="#d79aa4" stroke-width="1.4" fill="none"/>
<path d="M214,318.5 L216.5,321" stroke="#e6e0e2" stroke-width="1.2"/>
<path d="M157,346 C159,359 162.5,371 165.5,380.5 L163,384.5 L178.5,387 L179,384.6 L170.5,381 C170,371 172.5,358 178,346 Z" fill="#ebe3e7"/>
<path d="M163.4,384.6 L178.6,386.6" stroke="#dba4ad" stroke-width="2.2" stroke-linecap="round"/>
<path d="M158.5,350 C160.5,361 163.5,372 166,380" stroke="#cdb9c1" stroke-width="1.4" fill="none"/>
<path d="M99,367 C103,357 117,351 127,356.5 C133,362 131.5,369.5 126,373.5 L137,373.8 L137.4,376.6 L103,377 C99.5,374.5 98,371 99,367 Z" fill="#ece4e8"/>
<path d="M103.5,376.6 L137,375.6" stroke="#d7a0a9" stroke-width="2.2" stroke-linecap="round"/>
<path d="M101,367 C105,358 117,353 126.5,357.5" stroke="#d4c0c7" stroke-width="1.4" fill="none"/>
</g>
<path d="M108,357 C115,354.5 126.5,356.5 128.5,362.5 C130,368 118.5,371 111,376 C105.5,380.5 108,387 113,392" stroke="#cf453e" stroke-width="4.6" fill="none" stroke-linecap="round" filter="url(#soft)"/>
<path d="M108.5,357 C115,355 125.5,357 127.4,362" stroke="#e8736a" stroke-width="1.2" fill="none" stroke-linecap="round" opacity="0.8"/>
<path d="M107,381 C106.5,387 110,392 116,397 C122,401.5 129,405 137.5,408 C132,399 125,392 120.5,385 C118.5,381.5 117.5,379 118,377 Z" fill="#e0625a" opacity="0.85" filter="url(#soft)"/>
<g transform="translate(13.5 335) rotate(38.5)"><path d="M0,-2.6 V2.6 M0,0 H16" stroke="#7a7f86" stroke-width="1.2" fill="none"/><path d="M7,-1.8 V1.8" stroke="#7a7f86" stroke-width="1.2"/><rect x="16" y="-2.4" width="16" height="4.8" rx="0.8" fill="#57c26c" stroke="#3b9a52" stroke-width="0.6"/><rect x="15" y="-3" width="1.8" height="6" fill="#6a6f76"/><path d="M32,-1.3 L35,-0.7 V0.7 L32,1.3 Z" fill="#7a7f86"/><path d="M35,0 H54" stroke="#c8ccd0" stroke-width="0.7"/></g>
<!-- primary tumour -->
<circle cx="99.5" cy="392.1" r="6.2" fill="#2a5c9c" opacity="0.55"/><circle cx="99.5" cy="392.1" r="5.6" fill="url(#tbG)"/><circle cx="77.6" cy="399.0" r="6.8" fill="#2a5c9c" opacity="0.55"/><circle cx="77.6" cy="399.0" r="6.2" fill="url(#tbG)"/><circle cx="107.6" cy="390.1" r="7.1" fill="#2a5c9c" opacity="0.55"/><circle cx="107.6" cy="390.1" r="6.5" fill="url(#tbG)"/><circle cx="90.1" cy="396.2" r="6.2" fill="#2a5c9c" opacity="0.55"/><circle cx="90.1" cy="396.2" r="5.6" fill="url(#tbG)"/><circle cx="83.4" cy="398.3" r="4.6" fill="#2a5c9c" opacity="0.55"/><circle cx="83.4" cy="398.3" r="4.0" fill="url(#tbG)"/><circle cx="71.2" cy="402.5" r="6.7" fill="#2a5c9c" opacity="0.55"/><circle cx="71.2" cy="402.5" r="6.1" fill="url(#tbG)"/><circle cx="84.2" cy="403.0" r="5.2" fill="#2a5c9c" opacity="0.55"/><circle cx="84.2" cy="403.0" r="4.6" fill="url(#tbG)"/><circle cx="112.8" cy="394.9" r="5.3" fill="#2a5c9c" opacity="0.55"/><circle cx="112.8" cy="394.9" r="4.7" fill="url(#tbG)"/><circle cx="105.1" cy="397.5" r="5.0" fill="#2a5c9c" opacity="0.55"/><circle cx="105.1" cy="397.5" r="4.4" fill="url(#tbG)"/><circle cx="121.0" cy="394.0" r="7.1" fill="#2a5c9c" opacity="0.55"/><circle cx="121.0" cy="394.0" r="6.5" fill="url(#tbG)"/><circle cx="68.8" cy="409.9" r="7.2" fill="#2a5c9c" opacity="0.55"/><circle cx="68.8" cy="409.9" r="6.6" fill="url(#tbG)"/><circle cx="76.4" cy="408.4" r="5.0" fill="#2a5c9c" opacity="0.55"/><circle cx="76.4" cy="408.4" r="4.4" fill="url(#tbG)"/><circle cx="102.9" cy="402.6" r="5.7" fill="#2a5c9c" opacity="0.55"/><circle cx="102.9" cy="402.6" r="5.1" fill="url(#tbG)"/><circle cx="60.6" cy="417.3" r="6.1" fill="#2a5c9c" opacity="0.55"/><circle cx="60.6" cy="417.3" r="5.5" fill="url(#tbG)"/><circle cx="67.2" cy="417.0" r="5.7" fill="#2a5c9c" opacity="0.55"/><circle cx="67.2" cy="417.0" r="5.1" fill="url(#tbG)"/><circle cx="93.9" cy="410.2" r="7.5" fill="#2a5c9c" opacity="0.55"/><circle cx="93.9" cy="410.2" r="6.9" fill="url(#tbG)"/><circle cx="79.9" cy="416.4" r="6.7" fill="#2a5c9c" opacity="0.55"/><circle cx="79.9" cy="416.4" r="6.1" fill="url(#tbG)"/><circle cx="116.5" cy="405.6" r="6.7" fill="#2a5c9c" opacity="0.55"/><circle cx="116.5" cy="405.6" r="6.1" fill="url(#tbG)"/><circle cx="85.4" cy="415.1" r="4.9" fill="#2a5c9c" opacity="0.55"/><circle cx="85.4" cy="415.1" r="4.3" fill="url(#tbG)"/><circle cx="57.9" cy="423.5" r="4.8" fill="#2a5c9c" opacity="0.55"/><circle cx="57.9" cy="423.5" r="4.2" fill="url(#tbG)"/><circle cx="102.9" cy="410.9" r="5.4" fill="#2a5c9c" opacity="0.55"/><circle cx="102.9" cy="410.9" r="4.8" fill="url(#tbG)"/><circle cx="73.9" cy="420.8" r="6.0" fill="#2a5c9c" opacity="0.55"/><circle cx="73.9" cy="420.8" r="5.4" fill="url(#tbG)"/><circle cx="110.6" cy="410.0" r="5.8" fill="#2a5c9c" opacity="0.55"/><circle cx="110.6" cy="410.0" r="5.2" fill="url(#tbG)"/><circle cx="90.4" cy="417.3" r="4.7" fill="#2a5c9c" opacity="0.55"/><circle cx="90.4" cy="417.3" r="4.1" fill="url(#tbG)"/><circle cx="65.7" cy="426.1" r="5.9" fill="#2a5c9c" opacity="0.55"/><circle cx="65.7" cy="426.1" r="5.3" fill="url(#tbG)"/><circle cx="54.5" cy="431.0" r="5.0" fill="#2a5c9c" opacity="0.55"/><circle cx="54.5" cy="431.0" r="4.4" fill="url(#tbG)"/><circle cx="102.5" cy="416.9" r="6.5" fill="#2a5c9c" opacity="0.55"/><circle cx="102.5" cy="416.9" r="5.9" fill="url(#tbG)"/><circle cx="95.2" cy="420.5" r="6.0" fill="#2a5c9c" opacity="0.55"/><circle cx="95.2" cy="420.5" r="5.4" fill="url(#tbG)"/><circle cx="109.1" cy="416.6" r="4.8" fill="#2a5c9c" opacity="0.55"/><circle cx="109.1" cy="416.6" r="4.2" fill="url(#tbG)"/><circle cx="86.0" cy="425.2" r="4.8" fill="#2a5c9c" opacity="0.55"/><circle cx="86.0" cy="425.2" r="4.2" fill="url(#tbG)"/><circle cx="65.1" cy="432.6" r="6.8" fill="#2a5c9c" opacity="0.55"/><circle cx="65.1" cy="432.6" r="6.2" fill="url(#tbG)"/><circle cx="72.8" cy="432.5" r="6.7" fill="#2a5c9c" opacity="0.55"/><circle cx="72.8" cy="432.5" r="6.1" fill="url(#tbG)"/><circle cx="81.8" cy="430.4" r="5.1" fill="#2a5c9c" opacity="0.55"/><circle cx="81.8" cy="430.4" r="4.5" fill="url(#tbG)"/><circle cx="103.3" cy="424.2" r="7.6" fill="#2a5c9c" opacity="0.55"/><circle cx="103.3" cy="424.2" r="7.0" fill="url(#tbG)"/><circle cx="61.5" cy="438.7" r="7.0" fill="#2a5c9c" opacity="0.55"/><circle cx="61.5" cy="438.7" r="6.4" fill="url(#tbG)"/><circle cx="92.7" cy="430.6" r="7.3" fill="#2a5c9c" opacity="0.55"/><circle cx="92.7" cy="430.6" r="6.7" fill="url(#tbG)"/><circle cx="100.8" cy="430.8" r="6.3" fill="#2a5c9c" opacity="0.55"/><circle cx="100.8" cy="430.8" r="5.7" fill="url(#tbG)"/><circle cx="83.0" cy="436.8" r="7.1" fill="#2a5c9c" opacity="0.55"/><circle cx="83.0" cy="436.8" r="6.5" fill="url(#tbG)"/><circle cx="66.2" cy="442.6" r="5.0" fill="#2a5c9c" opacity="0.55"/><circle cx="66.2" cy="442.6" r="4.4" fill="url(#tbG)"/><circle cx="71.9" cy="442.9" r="5.0" fill="#2a5c9c" opacity="0.55"/><circle cx="71.9" cy="442.9" r="4.4" fill="url(#tbG)"/>
<path d="M105,380 C108,390 114,396 120,400 C116,412 110,422 102.5,427.5 C94,434 86,437 77.5,440 C68,444 60,449 48,455 L66,480 C76,468 84,456 95,447.5 C104,441 114,436 120,430 C128,422 134,414 137.5,407.5 C130,398 124,390 120,380 Z" fill="url(#vesG)"/>
<path d="M105,380 C108,390 114,396 120,400 C116,412 110,422 102.5,427.5 C94,434 86,437 77.5,440 C68,444 60,449 48,455" stroke="url(#vesE)" stroke-width="2.4" fill="none"/>
<path d="M120,380 C124,390 130,398 137.5,407.5 C134,414 128,422 120,430 C114,436 104,441 95,447.5 C84,456 76,468 66,480" stroke="url(#vesE)" stroke-width="2.4" fill="none"/>
<g fill="#c0564c" opacity="0.85"><ellipse cx="118" cy="414" rx="4" ry="1.5" transform="rotate(-60 118 414)"/><ellipse cx="98" cy="436" rx="3.6" ry="1.4" transform="rotate(-35 98 436)"/><ellipse cx="74" cy="456" rx="4" ry="1.5" transform="rotate(-60 74 456)"/><ellipse cx="86" cy="446" rx="3.2" ry="1.3" transform="rotate(-20 86 446)"/><ellipse cx="62" cy="462" rx="3.2" ry="1.3" transform="rotate(-50 62 462)"/></g>
<circle cx="145.6" cy="412.8" r="5.6" fill="#2a5c9c" opacity="0.55"/><circle cx="145.6" cy="412.8" r="5.0" fill="url(#tbG)"/><circle cx="138.3" cy="415.9" r="5.8" fill="#2a5c9c" opacity="0.55"/><circle cx="138.3" cy="415.9" r="5.2" fill="url(#tbG)"/><circle cx="128.4" cy="421.8" r="5.5" fill="#2a5c9c" opacity="0.55"/><circle cx="128.4" cy="421.8" r="4.9" fill="url(#tbG)"/><circle cx="134.2" cy="421.3" r="4.8" fill="#2a5c9c" opacity="0.55"/><circle cx="134.2" cy="421.3" r="4.2" fill="url(#tbG)"/><circle cx="149.8" cy="416.8" r="5.8" fill="#2a5c9c" opacity="0.55"/><circle cx="149.8" cy="416.8" r="5.2" fill="url(#tbG)"/><circle cx="120.2" cy="430.0" r="8.0" fill="#2a5c9c" opacity="0.55"/><circle cx="120.2" cy="430.0" r="7.4" fill="url(#tbG)"/><circle cx="140.2" cy="424.4" r="6.3" fill="#2a5c9c" opacity="0.55"/><circle cx="140.2" cy="424.4" r="5.7" fill="url(#tbG)"/><circle cx="131.3" cy="427.5" r="6.7" fill="#2a5c9c" opacity="0.55"/><circle cx="131.3" cy="427.5" r="6.1" fill="url(#tbG)"/><circle cx="158.1" cy="419.6" r="5.6" fill="#2a5c9c" opacity="0.55"/><circle cx="158.1" cy="419.6" r="5.0" fill="url(#tbG)"/><circle cx="114.0" cy="433.9" r="6.1" fill="#2a5c9c" opacity="0.55"/><circle cx="114.0" cy="433.9" r="5.5" fill="url(#tbG)"/><circle cx="107.2" cy="435.9" r="7.9" fill="#2a5c9c" opacity="0.55"/><circle cx="107.2" cy="435.9" r="7.3" fill="url(#tbG)"/><circle cx="146.5" cy="427.7" r="5.7" fill="#2a5c9c" opacity="0.55"/><circle cx="146.5" cy="427.7" r="5.1" fill="url(#tbG)"/><circle cx="103.7" cy="442.1" r="5.0" fill="#2a5c9c" opacity="0.55"/><circle cx="103.7" cy="442.1" r="4.4" fill="url(#tbG)"/><circle cx="134.9" cy="432.8" r="5.9" fill="#2a5c9c" opacity="0.55"/><circle cx="134.9" cy="432.8" r="5.3" fill="url(#tbG)"/><circle cx="155.4" cy="426.8" r="7.2" fill="#2a5c9c" opacity="0.55"/><circle cx="155.4" cy="426.8" r="6.6" fill="url(#tbG)"/><circle cx="117.6" cy="438.3" r="5.0" fill="#2a5c9c" opacity="0.55"/><circle cx="117.6" cy="438.3" r="4.4" fill="url(#tbG)"/><circle cx="162.5" cy="425.0" r="5.2" fill="#2a5c9c" opacity="0.55"/><circle cx="162.5" cy="425.0" r="4.6" fill="url(#tbG)"/><circle cx="142.3" cy="432.7" r="5.5" fill="#2a5c9c" opacity="0.55"/><circle cx="142.3" cy="432.7" r="4.9" fill="url(#tbG)"/><circle cx="96.3" cy="446.9" r="6.8" fill="#2a5c9c" opacity="0.55"/><circle cx="96.3" cy="446.9" r="6.2" fill="url(#tbG)"/><circle cx="112.7" cy="442.6" r="7.9" fill="#2a5c9c" opacity="0.55"/><circle cx="112.7" cy="442.6" r="7.3" fill="url(#tbG)"/><circle cx="125.4" cy="438.8" r="7.4" fill="#2a5c9c" opacity="0.55"/><circle cx="125.4" cy="438.8" r="6.8" fill="url(#tbG)"/><circle cx="91.0" cy="450.9" r="5.2" fill="#2a5c9c" opacity="0.55"/><circle cx="91.0" cy="450.9" r="4.6" fill="url(#tbG)"/><circle cx="153.2" cy="433.6" r="5.8" fill="#2a5c9c" opacity="0.55"/><circle cx="153.2" cy="433.6" r="5.2" fill="url(#tbG)"/><circle cx="133.1" cy="440.3" r="5.1" fill="#2a5c9c" opacity="0.55"/><circle cx="133.1" cy="440.3" r="4.5" fill="url(#tbG)"/><circle cx="87.5" cy="455.7" r="5.3" fill="#2a5c9c" opacity="0.55"/><circle cx="87.5" cy="455.7" r="4.7" fill="url(#tbG)"/><circle cx="108.6" cy="449.5" r="7.2" fill="#2a5c9c" opacity="0.55"/><circle cx="108.6" cy="449.5" r="6.6" fill="url(#tbG)"/><circle cx="147.4" cy="438.8" r="7.5" fill="#2a5c9c" opacity="0.55"/><circle cx="147.4" cy="438.8" r="6.9" fill="url(#tbG)"/><circle cx="160.5" cy="435.3" r="7.0" fill="#2a5c9c" opacity="0.55"/><circle cx="160.5" cy="435.3" r="6.4" fill="url(#tbG)"/><circle cx="98.2" cy="454.4" r="5.7" fill="#2a5c9c" opacity="0.55"/><circle cx="98.2" cy="454.4" r="5.1" fill="url(#tbG)"/><circle cx="141.1" cy="441.5" r="5.2" fill="#2a5c9c" opacity="0.55"/><circle cx="141.1" cy="441.5" r="4.6" fill="url(#tbG)"/><circle cx="127.2" cy="446.2" r="6.7" fill="#2a5c9c" opacity="0.55"/><circle cx="127.2" cy="446.2" r="6.1" fill="url(#tbG)"/><circle cx="83.7" cy="461.0" r="6.6" fill="#2a5c9c" opacity="0.55"/><circle cx="83.7" cy="461.0" r="6.0" fill="url(#tbG)"/><circle cx="119.8" cy="450.3" r="7.8" fill="#2a5c9c" opacity="0.55"/><circle cx="119.8" cy="450.3" r="7.2" fill="url(#tbG)"/><circle cx="136.3" cy="446.0" r="6.9" fill="#2a5c9c" opacity="0.55"/><circle cx="136.3" cy="446.0" r="6.3" fill="url(#tbG)"/><circle cx="112.1" cy="455.9" r="5.9" fill="#2a5c9c" opacity="0.55"/><circle cx="112.1" cy="455.9" r="5.3" fill="url(#tbG)"/><circle cx="151.9" cy="444.5" r="5.6" fill="#2a5c9c" opacity="0.55"/><circle cx="151.9" cy="444.5" r="5.0" fill="url(#tbG)"/><circle cx="95.4" cy="461.9" r="5.0" fill="#2a5c9c" opacity="0.55"/><circle cx="95.4" cy="461.9" r="4.4" fill="url(#tbG)"/><circle cx="106.5" cy="458.8" r="5.4" fill="#2a5c9c" opacity="0.55"/><circle cx="106.5" cy="458.8" r="4.8" fill="url(#tbG)"/><circle cx="101.0" cy="460.7" r="5.6" fill="#2a5c9c" opacity="0.55"/><circle cx="101.0" cy="460.7" r="5.0" fill="url(#tbG)"/><circle cx="160.1" cy="443.8" r="7.9" fill="#2a5c9c" opacity="0.55"/><circle cx="160.1" cy="443.8" r="7.3" fill="url(#tbG)"/><circle cx="120.8" cy="456.9" r="5.5" fill="#2a5c9c" opacity="0.55"/><circle cx="120.8" cy="456.9" r="4.9" fill="url(#tbG)"/><circle cx="142.4" cy="451.0" r="7.7" fill="#2a5c9c" opacity="0.55"/><circle cx="142.4" cy="451.0" r="7.1" fill="url(#tbG)"/><circle cx="130.4" cy="455.0" r="6.0" fill="#2a5c9c" opacity="0.55"/><circle cx="130.4" cy="455.0" r="5.4" fill="url(#tbG)"/><circle cx="88.0" cy="468.3" r="7.0" fill="#2a5c9c" opacity="0.55"/><circle cx="88.0" cy="468.3" r="6.4" fill="url(#tbG)"/><circle cx="114.2" cy="462.9" r="6.7" fill="#2a5c9c" opacity="0.55"/><circle cx="114.2" cy="462.9" r="6.1" fill="url(#tbG)"/><circle cx="152.5" cy="452.9" r="5.7" fill="#2a5c9c" opacity="0.55"/><circle cx="152.5" cy="452.9" r="5.1" fill="url(#tbG)"/><circle cx="107.2" cy="467.0" r="4.9" fill="#2a5c9c" opacity="0.55"/><circle cx="107.2" cy="467.0" r="4.3" fill="url(#tbG)"/><circle cx="122.4" cy="462.6" r="5.8" fill="#2a5c9c" opacity="0.55"/><circle cx="122.4" cy="462.6" r="5.2" fill="url(#tbG)"/><circle cx="97.9" cy="470.5" r="8.0" fill="#2a5c9c" opacity="0.55"/><circle cx="97.9" cy="470.5" r="7.4" fill="url(#tbG)"/><circle cx="129.5" cy="462.1" r="5.9" fill="#2a5c9c" opacity="0.55"/><circle cx="129.5" cy="462.1" r="5.3" fill="url(#tbG)"/><circle cx="137.8" cy="459.8" r="6.7" fill="#2a5c9c" opacity="0.55"/><circle cx="137.8" cy="459.8" r="6.1" fill="url(#tbG)"/><circle cx="91.6" cy="474.5" r="5.6" fill="#2a5c9c" opacity="0.55"/><circle cx="91.6" cy="474.5" r="5.0" fill="url(#tbG)"/><circle cx="144.9" cy="460.7" r="7.3" fill="#2a5c9c" opacity="0.55"/><circle cx="144.9" cy="460.7" r="6.7" fill="url(#tbG)"/><circle cx="106.8" cy="473.7" r="5.5" fill="#2a5c9c" opacity="0.55"/><circle cx="106.8" cy="473.7" r="4.9" fill="url(#tbG)"/><circle cx="118.8" cy="470.7" r="6.5" fill="#2a5c9c" opacity="0.55"/><circle cx="118.8" cy="470.7" r="5.9" fill="url(#tbG)"/><circle cx="135.4" cy="466.1" r="5.7" fill="#2a5c9c" opacity="0.55"/><circle cx="135.4" cy="466.1" r="5.1" fill="url(#tbG)"/><circle cx="97.3" cy="478.4" r="7.6" fill="#2a5c9c" opacity="0.55"/><circle cx="97.3" cy="478.4" r="7.0" fill="url(#tbG)"/><circle cx="126.6" cy="471.3" r="6.8" fill="#2a5c9c" opacity="0.55"/><circle cx="126.6" cy="471.3" r="6.2" fill="url(#tbG)"/><circle cx="105.7" cy="479.8" r="5.0" fill="#2a5c9c" opacity="0.55"/><circle cx="105.7" cy="479.8" r="4.4" fill="url(#tbG)"/><circle cx="114.0" cy="479.0" r="7.5" fill="#2a5c9c" opacity="0.55"/><circle cx="114.0" cy="479.0" r="6.9" fill="url(#tbG)"/>
<g stroke="#b5455a" stroke-width="1.5" fill="none" stroke-linecap="round" opacity="0.9"><path d="M163,420 C152,428 142,431 134,438 C128,444 118,448 108,454"/><path d="M142,432 C146,442 142,452 136,462 C132,468 132,474 130,478"/><path d="M134,438 C126,440 122,436 116,440"/><path d="M70,400 C78,396 86,398 90,404 C94,410 102,408 108,400"/><path d="M58,424 C64,420 68,424 72,428"/></g>
<!-- red flow arrows -->
<polygon fill="url(#ra1)" points="524.7,236.3 525.1,234.4 525.6,232.5 526.0,230.6 526.5,228.8 527.1,226.9 527.7,225.1 528.3,223.4 528.9,221.6 529.6,219.9 530.4,218.2 531.1,216.5 531.9,214.8 532.8,213.2 533.6,211.6 534.5,210.0 535.5,208.5 536.0,207.6 537.8,212.5 541.0,194.0 524.7,203.3 529.9,203.3 529.1,204.9 528.2,206.7 527.4,208.5 526.6,210.3 525.8,212.2 525.1,214.0 524.5,215.9 523.9,217.8 523.3,219.7 522.8,221.7 522.3,223.6 521.8,225.6 521.4,227.6 521.1,229.6 520.8,231.6 520.5,233.6 520.3,235.7"/>
<polygon fill="url(#ra2)" points="653.9,116.9 656.3,116.1 658.7,115.3 661.1,114.6 663.4,113.9 665.8,113.3 668.1,112.6 670.5,112.0 672.8,111.4 675.1,110.9 677.4,110.3 679.6,109.8 681.9,109.3 684.1,108.9 686.3,108.5 688.5,108.0 690.7,107.7 692.9,107.3 692.8,107.3 690.6,112.2 707.0,101.0 687.9,95.4 691.6,99.4 691.3,99.5 689.1,100.0 686.9,100.6 684.6,101.1 682.4,101.8 680.1,102.4 677.9,103.1 675.6,103.8 673.3,104.5 671.0,105.2 668.7,106.0 666.4,106.8 664.0,107.6 661.7,108.5 659.3,109.4 656.9,110.3 654.5,111.2 652.1,112.1"/>
<polygon fill="url(#ra3)" points="843.3,114.4 845.3,115.1 847.4,115.9 849.4,116.8 851.5,117.6 853.5,118.5 855.4,119.5 857.4,120.5 859.3,121.5 861.2,122.6 863.1,123.7 865.0,124.8 866.8,126.0 868.6,127.2 870.4,128.5 872.2,129.8 874.0,131.1 875.7,132.5 876.5,133.2 871.3,134.6 890.5,140.0 882.5,121.8 881.8,127.2 880.4,126.2 878.5,124.9 876.5,123.6 874.5,122.3 872.5,121.1 870.4,120.0 868.4,118.9 866.3,117.8 864.2,116.8 862.1,115.8 860.0,114.9 857.9,114.0 855.7,113.2 853.6,112.4 851.4,111.6 849.2,110.9 847.0,110.2 844.7,109.6"/>
<polygon fill="url(#ra4)" points="949.0,258.3 949.2,260.8 949.4,263.2 949.5,265.6 949.5,268.0 949.6,270.4 949.6,272.7 949.5,275.0 949.4,277.3 949.3,279.6 949.1,281.8 948.9,284.0 948.7,286.2 948.4,288.4 948.1,290.5 947.8,292.6 947.4,294.7 947.2,295.6 943.8,291.6 947.0,312.0 959.3,295.5 954.5,297.4 954.7,295.9 955.0,293.7 955.2,291.4 955.4,289.1 955.5,286.8 955.6,284.5 955.7,282.1 955.7,279.7 955.7,277.4 955.6,275.0 955.5,272.6 955.4,270.1 955.2,267.7 954.9,265.2 954.7,262.7 954.3,260.2 954.0,257.7"/>
<polygon fill="url(#ra5)" points="830.1,474.7 827.5,475.5 825.0,476.4 822.4,477.2 820.0,477.9 817.5,478.6 815.1,479.3 812.7,479.9 810.3,480.5 808.0,481.0 805.7,481.5 803.4,481.9 801.1,482.3 798.9,482.7 796.7,483.0 794.6,483.3 792.4,483.5 791.2,483.7 794.0,479.5 776.5,488.5 794.9,495.5 791.7,491.6 793.6,491.3 795.8,490.9 798.0,490.5 800.3,490.0 802.6,489.4 804.9,488.8 807.3,488.2 809.6,487.5 812.0,486.8 814.4,486.0 816.9,485.2 819.3,484.3 821.8,483.4 824.3,482.4 826.8,481.5 829.3,480.4 831.9,479.3"/>
<!-- dying tumour cluster (TAAs/DAMPs) -->
<g filter="url(#soft)"><rect x="558.8" y="119.3" width="4.3" height="2.9" fill="#d3aab8" opacity="0.41" transform="rotate(84 558.8 119.3)"/><rect x="634.3" y="135.1" width="4.7" height="1.2" fill="#8f3f5c" opacity="0.79" transform="rotate(69 634.3 135.1)"/><rect x="587.1" y="110.6" width="2.1" height="2.7" fill="#8f3f5c" opacity="0.47" transform="rotate(143 587.1 110.6)"/><rect x="618.9" y="123.3" width="2.3" height="3.0" fill="#b9718a" opacity="0.53" transform="rotate(173 618.9 123.3)"/><rect x="547.9" y="139.5" width="2.2" height="2.9" fill="#b9718a" opacity="0.83" transform="rotate(161 547.9 139.5)"/><rect x="579.6" y="187.2" width="2.1" height="1.3" fill="#a8546f" opacity="0.55" transform="rotate(147 579.6 187.2)"/><rect x="554.0" y="128.3" width="4.0" height="1.1" fill="#c98fa3" opacity="0.77" transform="rotate(87 554.0 128.3)"/><rect x="574.8" y="187.2" width="4.0" height="1.1" fill="#a8546f" opacity="0.83" transform="rotate(64 574.8 187.2)"/><rect x="556.0" y="173.5" width="3.0" height="1.8" fill="#a8546f" opacity="0.60" transform="rotate(127 556.0 173.5)"/><rect x="556.8" y="117.1" width="1.9" height="1.5" fill="#8f3f5c" opacity="0.55" transform="rotate(64 556.8 117.1)"/><rect x="545.7" y="143.1" width="1.9" height="2.5" fill="#c98fa3" opacity="0.79" transform="rotate(7 545.7 143.1)"/><rect x="627.1" y="138.2" width="2.7" height="2.2" fill="#b9718a" opacity="0.55" transform="rotate(166 627.1 138.2)"/><rect x="553.2" y="139.3" width="2.6" height="1.4" fill="#a8546f" opacity="0.68" transform="rotate(130 553.2 139.3)"/><rect x="576.4" y="187.8" width="4.0" height="1.2" fill="#d3aab8" opacity="0.64" transform="rotate(73 576.4 187.8)"/><rect x="611.5" y="114.3" width="3.0" height="1.1" fill="#a8546f" opacity="0.76" transform="rotate(60 611.5 114.3)"/><rect x="557.2" y="135.9" width="4.6" height="1.8" fill="#b9718a" opacity="0.60" transform="rotate(27 557.2 135.9)"/><rect x="614.5" y="118.4" width="3.1" height="3.0" fill="#b9718a" opacity="0.84" transform="rotate(82 614.5 118.4)"/><rect x="545.9" y="153.3" width="3.2" height="1.6" fill="#8f3f5c" opacity="0.81" transform="rotate(20 545.9 153.3)"/><rect x="611.0" y="112.9" width="2.1" height="2.9" fill="#c98fa3" opacity="0.48" transform="rotate(89 611.0 112.9)"/><rect x="548.5" y="146.0" width="3.3" height="1.1" fill="#c98fa3" opacity="0.71" transform="rotate(120 548.5 146.0)"/><rect x="594.5" y="111.0" width="4.0" height="1.6" fill="#8f3f5c" opacity="0.52" transform="rotate(177 594.5 111.0)"/><rect x="581.5" y="104.1" width="2.7" height="1.4" fill="#a8546f" opacity="0.61" transform="rotate(139 581.5 104.1)"/><rect x="573.7" y="183.6" width="2.5" height="2.0" fill="#c98fa3" opacity="0.56" transform="rotate(116 573.7 183.6)"/><rect x="588.4" y="104.9" width="2.7" height="2.7" fill="#8f3f5c" opacity="0.84" transform="rotate(172 588.4 104.9)"/><rect x="548.9" y="145.3" width="2.1" height="2.7" fill="#8f3f5c" opacity="0.53" transform="rotate(14 548.9 145.3)"/><rect x="572.0" y="115.1" width="3.7" height="2.9" fill="#d3aab8" opacity="0.70" transform="rotate(76 572.0 115.1)"/><rect x="558.6" y="118.8" width="3.7" height="2.4" fill="#a8546f" opacity="0.49" transform="rotate(106 558.6 118.8)"/><rect x="564.6" y="124.3" width="4.2" height="1.4" fill="#a8546f" opacity="0.84" transform="rotate(176 564.6 124.3)"/><rect x="548.6" y="154.5" width="3.0" height="1.7" fill="#d3aab8" opacity="0.43" transform="rotate(37 548.6 154.5)"/><rect x="583.8" y="111.6" width="2.7" height="2.9" fill="#8f3f5c" opacity="0.79" transform="rotate(124 583.8 111.6)"/><rect x="544.7" y="136.2" width="3.4" height="1.6" fill="#c98fa3" opacity="0.65" transform="rotate(61 544.7 136.2)"/><rect x="548.8" y="127.2" width="4.4" height="1.8" fill="#d3aab8" opacity="0.69" transform="rotate(66 548.8 127.2)"/><rect x="546.5" y="131.7" width="4.9" height="2.2" fill="#c98fa3" opacity="0.77" transform="rotate(119 546.5 131.7)"/><rect x="629.7" y="129.3" width="2.6" height="2.8" fill="#d3aab8" opacity="0.57" transform="rotate(78 629.7 129.3)"/><rect x="632.7" y="143.2" width="4.9" height="2.8" fill="#d3aab8" opacity="0.67" transform="rotate(133 632.7 143.2)"/><rect x="579.6" y="185.6" width="1.6" height="2.9" fill="#c98fa3" opacity="0.62" transform="rotate(52 579.6 185.6)"/><rect x="554.7" y="155.2" width="3.7" height="1.9" fill="#c98fa3" opacity="0.42" transform="rotate(25 554.7 155.2)"/><rect x="555.4" y="136.1" width="3.2" height="1.1" fill="#8f3f5c" opacity="0.52" transform="rotate(28 555.4 136.1)"/><rect x="632.0" y="147.3" width="3.6" height="1.9" fill="#d3aab8" opacity="0.80" transform="rotate(161 632.0 147.3)"/><rect x="629.6" y="153.6" width="2.5" height="2.4" fill="#d3aab8" opacity="0.53" transform="rotate(95 629.6 153.6)"/><rect x="552.0" y="158.7" width="4.1" height="2.2" fill="#a8546f" opacity="0.40" transform="rotate(100 552.0 158.7)"/><rect x="577.3" y="117.2" width="3.9" height="1.4" fill="#8f3f5c" opacity="0.75" transform="rotate(77 577.3 117.2)"/><rect x="551.2" y="130.0" width="3.7" height="2.0" fill="#8f3f5c" opacity="0.61" transform="rotate(123 551.2 130.0)"/><rect x="582.8" y="104.7" width="3.1" height="2.5" fill="#c98fa3" opacity="0.78" transform="rotate(125 582.8 104.7)"/><rect x="555.5" y="165.6" width="4.2" height="2.8" fill="#b9718a" opacity="0.47" transform="rotate(125 555.5 165.6)"/><rect x="630.0" y="119.7" width="3.4" height="1.9" fill="#d3aab8" opacity="0.77" transform="rotate(12 630.0 119.7)"/><rect x="603.7" y="108.4" width="1.6" height="2.4" fill="#a8546f" opacity="0.85" transform="rotate(126 603.7 108.4)"/><rect x="637.6" y="163.7" width="2.3" height="2.3" fill="#a8546f" opacity="0.72" transform="rotate(24 637.6 163.7)"/></g>
<path d="M556,130 C560,119 576,114 592,115 C610,115 625,124 629,139 C632,154 627,166 616,172 C604,180 590,186 576,188 C566,189 560,184 559,176 C556,160 553,144 556,130 Z" fill="#8f3858" opacity="0.9" filter="url(#soft1)"/>
<g filter="url(#soft)"><circle cx="561" cy="184" r="7.0" fill="#712443" opacity="0.55"/><circle cx="561" cy="184" r="6.5" fill="url(#tpG)"/><circle cx="586" cy="182" r="6.0" fill="#712443" opacity="0.55"/><circle cx="586" cy="182" r="5.5" fill="url(#tpG)"/><circle cx="603" cy="174" r="7.0" fill="#712443" opacity="0.55"/><circle cx="603" cy="174" r="6.5" fill="url(#tpG)"/><circle cx="569" cy="172" r="8.5" fill="#712443" opacity="0.55"/><circle cx="569" cy="172" r="8" fill="url(#tpG)"/><circle cx="583" cy="171" r="8.7" fill="#712443" opacity="0.55"/><circle cx="583" cy="171" r="8.2" fill="url(#tpG)"/><circle cx="594.5" cy="168" r="8.5" fill="#712443" opacity="0.55"/><circle cx="594.5" cy="168" r="8" fill="url(#tpG)"/><circle cx="628" cy="166" r="6.0" fill="#712443" opacity="0.55"/><circle cx="628" cy="166" r="5.5" fill="url(#tpG)"/><circle cx="553" cy="166" r="6.5" fill="#712443" opacity="0.55"/><circle cx="553" cy="166" r="6" fill="url(#tpG)"/><circle cx="619" cy="164.5" r="8.5" fill="#712443" opacity="0.55"/><circle cx="619" cy="164.5" r="8" fill="url(#tpG)"/><circle cx="608.5" cy="162.5" r="8.7" fill="#712443" opacity="0.55"/><circle cx="608.5" cy="162.5" r="8.2" fill="url(#tpG)"/><circle cx="582" cy="158.5" r="8.7" fill="#712443" opacity="0.55"/><circle cx="582" cy="158.5" r="8.2" fill="url(#tpG)"/><circle cx="572" cy="156" r="8.5" fill="#712443" opacity="0.55"/><circle cx="572" cy="156" r="8" fill="url(#tpG)"/><circle cx="595.5" cy="154" r="8.9" fill="#712443" opacity="0.55"/><circle cx="595.5" cy="154" r="8.4" fill="url(#tpG)"/><circle cx="626" cy="153" r="8.0" fill="#712443" opacity="0.55"/><circle cx="626" cy="153" r="7.5" fill="url(#tpG)"/><circle cx="561" cy="151" r="8.5" fill="#712443" opacity="0.55"/><circle cx="561" cy="151" r="8" fill="url(#tpG)"/><circle cx="615" cy="147" r="9.1" fill="#712443" opacity="0.55"/><circle cx="615" cy="147" r="8.6" fill="url(#tpG)"/><circle cx="600.5" cy="142" r="9.1" fill="#712443" opacity="0.55"/><circle cx="600.5" cy="142" r="8.6" fill="url(#tpG)"/><circle cx="553" cy="140" r="6.5" fill="#712443" opacity="0.55"/><circle cx="553" cy="140" r="6" fill="url(#tpG)"/><circle cx="584" cy="139" r="9.1" fill="#712443" opacity="0.55"/><circle cx="584" cy="139" r="8.6" fill="url(#tpG)"/><circle cx="568" cy="137" r="8.9" fill="#712443" opacity="0.55"/><circle cx="568" cy="137" r="8.4" fill="url(#tpG)"/><circle cx="622" cy="133" r="8.0" fill="#712443" opacity="0.55"/><circle cx="622" cy="133" r="7.5" fill="url(#tpG)"/><circle cx="607.5" cy="130" r="8.9" fill="#712443" opacity="0.55"/><circle cx="607.5" cy="130" r="8.4" fill="url(#tpG)"/><circle cx="559.5" cy="127" r="8.0" fill="#712443" opacity="0.55"/><circle cx="559.5" cy="127" r="7.5" fill="url(#tpG)"/><circle cx="574" cy="125" r="9.1" fill="#712443" opacity="0.55"/><circle cx="574" cy="125" r="8.6" fill="url(#tpG)"/><circle cx="591" cy="122" r="9.5" fill="#712443" opacity="0.55"/><circle cx="591" cy="122" r="9" fill="url(#tpG)"/></g>
<path d="M611.8,129.0L614.7,125.5 M621.7,137.6L624.4,140.8 M620.7,128.1L623.7,125.6 M627.9,126.7L623.7,131.7 M631.9,149.0L635.2,145.1 M619.6,137.1L622.7,134.5 M568.8,178.6L574.3,183.2 M619.7,133.7L623.6,129.1 M615.9,127.3L621.3,122.7 M620.2,165.0L624.8,161.1 M620.3,135.4L617.2,139.2 M620.9,141.1L626.1,145.4 M583.7,177.6L587.3,181.9 M615.5,135.7L618.8,131.8 M625.7,164.4L628.1,161.5 M620.0,166.2L623.4,162.2 M635.4,147.5L632.1,151.5 M621.8,160.5L617.7,165.3 M609.4,130.2L614.3,126.1 M627.8,139.5L631.2,143.6 M561.1,171.2L563.9,168.8 M568.8,180.7L572.4,183.7 M624.7,150.3L628.8,146.9 M631.0,150.2L635.4,155.4 M613.5,133.0L617.8,127.9 M620.4,153.1L625.0,157.0 M626.8,132.9L630.1,136.8 M626.6,143.8L624.2,146.7 M563.6,174.0L560.4,177.9 M621.1,132.4L618.4,135.7 M624.9,159.7L620.9,164.5 M625.6,138.3L628.8,141.0 M566.9,180.9L571.1,176.0 M624.3,142.2L620.1,147.1 M629.5,144.0L625.6,148.6 M623.3,152.2L626.9,149.1 M616.6,139.1L619.6,142.7 M567.5,176.0L569.9,173.2 M617.4,130.5L621.4,127.1 M615.0,138.1L620.4,133.6 M620.3,152.4L623.6,156.3 M569.9,178.8L573.4,174.6 M623.7,148.6L628.0,153.7 M579.7,183.6L583.7,186.9 M561.3,175.0L566.0,171.1 M584.2,180.8L589.1,176.7 M621.3,139.3L625.3,136.0 M631.0,158.3L634.7,153.9 M617.6,154.5L621.4,149.9 M623.5,154.6L626.7,150.8 M562.0,177.2L564.7,180.4 M577.7,176.3L581.2,179.2 M569.8,185.0L574.6,181.0" stroke="#fff" stroke-width="1.4" opacity="0.85" fill="none" stroke-linecap="round"/>
<ellipse cx="558" cy="190" rx="9" ry="7" fill="#fff" opacity="0.55" filter="url(#soft2)"/>
<!-- dendritic cell -->
<g filter="url(#soft)"><path d="M792.8,94.5 Q792.7,81.4 796.5,66.5 A2.1,2.1 0 0 0 792.5,65.5 Q788.6,80.4 782.2,91.8 Z" fill="#ada2cf"/><path d="M771.8,94.6 Q759.7,88.1 747.8,77.1 A2.6,2.6 0 0 0 744.2,80.9 Q756.2,91.9 763.7,103.4 Z" fill="#ada2cf"/><path d="M776.0,93.3 Q769.6,85.7 763.9,75.2 A1.6,1.6 0 0 0 761.1,76.8 Q766.8,87.2 769.8,96.6 Z" fill="#ada2cf"/><path d="M799.1,100.8 Q806.0,91.2 816.1,81.1 A1.5,1.5 0 0 0 813.9,78.9 Q803.8,89.0 794.2,95.9 Z" fill="#ada2cf"/><path d="M803.0,111.3 Q811.6,106.2 823.1,102.9 A2.0,2.0 0 0 0 821.9,99.1 Q810.5,102.4 800.5,102.6 Z" fill="#ada2cf"/><path d="M800.4,103.1 Q804.1,98.3 809.8,94.0 A1.3,1.3 0 0 0 808.2,92.0 Q802.5,96.2 796.8,98.2 Z" fill="#ada2cf"/><path d="M763.7,103.3 Q748.9,104.1 731.5,101.2 A2.8,2.8 0 0 0 730.5,106.8 Q748.0,109.6 761.8,115.2 Z" fill="#ada2cf"/><path d="M762.2,114.1 Q755.7,118.3 747.0,120.8 A1.8,1.8 0 0 0 748.0,124.2 Q756.7,121.8 764.4,121.8 Z" fill="#ada2cf"/><path d="M763.1,119.4 Q755.2,127.9 743.7,135.6 A2.3,2.3 0 0 0 746.3,139.4 Q757.7,131.8 768.6,127.8 Z" fill="#ada2cf"/><path d="M770.9,129.6 Q769.0,143.0 763.4,158.2 A2.2,2.2 0 0 0 767.6,159.8 Q773.1,144.5 780.3,133.0 Z" fill="#ada2cf"/><path d="M778.5,132.5 Q780.8,138.1 780.8,145.0 A1.7,1.7 0 0 0 784.2,145.0 Q784.2,138.1 786.5,132.5 Z" fill="#ada2cf"/><path d="M785.6,132.8 Q791.4,140.8 795.6,151.7 A2.0,2.0 0 0 0 799.4,150.3 Q795.1,139.3 794.0,129.5 Z" fill="#ada2cf"/><path d="M799.4,123.9 Q805.5,123.9 811.8,126.6 A1.7,1.7 0 0 0 813.2,123.4 Q806.8,120.8 802.5,116.5 Z" fill="#ada2cf"/><path d="M775.6,131.5 Q775.7,139.9 773.7,149.7 A1.3,1.3 0 0 0 776.3,150.3 Q778.2,140.4 781.5,132.7 Z" fill="#ada2cf"/><path d="M755,110 C755,94 767,85 782,85.5 C798,85 810,96 810.5,111 C811,128 798,140 782,140 C766,140 755,126 755,110 Z" fill="url(#dcG)"/><path d="M773,113 C773,106 779,102 785,104 C790,107 789,114 786,120 C783,126 777,127 774,122 C772,119 773,116 773,113 Z" fill="#65528f"/></g>
<!-- T cells & receptors -->
<ellipse cx="930.5" cy="202" rx="31" ry="28.5" fill="url(#tcG)"/><ellipse cx="941.35" cy="199.15" rx="10.85" ry="17.099999999999998" fill="#dfe3f5" opacity="0.55" filter="url(#soft2)"/><circle cx="922.5" cy="205" r="17.5" fill="#f3b088" opacity="0.6" filter="url(#soft1)"/><circle cx="922.5" cy="205" r="16" fill="url(#nuG)"/>
<g transform="translate(927.5 184) rotate(-6) scale(1.0 1.0)"><path d="M-2.3,0 L-2.6,-17 L2.6,-17 L2.3,0 Z" fill="#b160aa"/><rect x="-4.6" y="-11.5" width="4" height="3.2" rx="0.8" fill="#b160aa"/><path d="M-10.5,-35 C-12.5,-24 -7,-15.2 0,-15.2 C7,-15.2 12.5,-24 10.5,-35 L7.4,-33.5 C7,-28 4,-24.6 0,-24.6 C-4,-24.6 -7,-28 -7.4,-33.5 Z" fill="#b160aa"/></g>
<ellipse cx="946.5" cy="388" rx="21" ry="21" fill="url(#tcG)"/><ellipse cx="953.85" cy="385.9" rx="7.35" ry="12.6" fill="#dfe3f5" opacity="0.55" filter="url(#soft2)"/><circle cx="943.4" cy="392.5" r="11.7" fill="#f3b088" opacity="0.6" filter="url(#soft1)"/><circle cx="943.4" cy="392.5" r="10.2" fill="url(#nuG)"/>
<ellipse cx="916" cy="432" rx="21.5" ry="21.5" fill="url(#tcG)"/><ellipse cx="923.525" cy="429.85" rx="7.5249999999999995" ry="12.9" fill="#dfe3f5" opacity="0.55" filter="url(#soft2)"/><circle cx="919.5" cy="435.5" r="11.7" fill="#f3b088" opacity="0.6" filter="url(#soft1)"/><circle cx="919.5" cy="435.5" r="10.2" fill="url(#nuG)"/>
<g transform="translate(716.5 274.5) rotate(73) scale(1.1)"><line x1="-1.25" y1="1" x2="-1.25" y2="21" stroke="#5fb8ac" stroke-width="2.7" /><line x1="-1.25" y1="1" x2="-1.25" y2="21" stroke="#86cfc4" stroke-width="1.5000000000000002" /><line x1="1.25" y1="1" x2="1.25" y2="21" stroke="#5fb8ac" stroke-width="2.7" /><line x1="1.25" y1="1" x2="1.25" y2="21" stroke="#86cfc4" stroke-width="1.5000000000000002" /><line x1="-0.8" y1="1.5" x2="-11" y2="-10.5" stroke="#5fb8ac" stroke-width="2.7" /><line x1="-0.8" y1="1.5" x2="-11" y2="-10.5" stroke="#86cfc4" stroke-width="1.5000000000000002" /><line x1="-3.2" y1="3.6" x2="-13.2" y2="-8" stroke="#5fb8ac" stroke-width="2.7" /><line x1="-3.2" y1="3.6" x2="-13.2" y2="-8" stroke="#86cfc4" stroke-width="1.5000000000000002" /><line x1="0.8" y1="1.5" x2="11" y2="-10.5" stroke="#5fb8ac" stroke-width="2.7" /><line x1="0.8" y1="1.5" x2="11" y2="-10.5" stroke="#86cfc4" stroke-width="1.5000000000000002" /><line x1="3.2" y1="3.6" x2="13.2" y2="-8" stroke="#5fb8ac" stroke-width="2.7" /><line x1="3.2" y1="3.6" x2="13.2" y2="-8" stroke="#86cfc4" stroke-width="1.5000000000000002" /></g>
<g transform="translate(758 288.5) rotate(0) scale(1.1)"><line x1="-1.25" y1="1" x2="-1.25" y2="21" stroke="#5fb8ac" stroke-width="2.7" /><line x1="-1.25" y1="1" x2="-1.25" y2="21" stroke="#86cfc4" stroke-width="1.5000000000000002" /><line x1="1.25" y1="1" x2="1.25" y2="21" stroke="#5fb8ac" stroke-width="2.7" /><line x1="1.25" y1="1" x2="1.25" y2="21" stroke="#86cfc4" stroke-width="1.5000000000000002" /><line x1="-0.8" y1="1.5" x2="-11" y2="-10.5" stroke="#5fb8ac" stroke-width="2.7" /><line x1="-0.8" y1="1.5" x2="-11" y2="-10.5" stroke="#86cfc4" stroke-width="1.5000000000000002" /><line x1="-3.2" y1="3.6" x2="-13.2" y2="-8" stroke="#5fb8ac" stroke-width="2.7" /><line x1="-3.2" y1="3.6" x2="-13.2" y2="-8" stroke="#86cfc4" stroke-width="1.5000000000000002" /><line x1="0.8" y1="1.5" x2="11" y2="-10.5" stroke="#5fb8ac" stroke-width="2.7" /><line x1="0.8" y1="1.5" x2="11" y2="-10.5" stroke="#86cfc4" stroke-width="1.5000000000000002" /><line x1="3.2" y1="3.6" x2="13.2" y2="-8" stroke="#5fb8ac" stroke-width="2.7" /><line x1="3.2" y1="3.6" x2="13.2" y2="-8" stroke="#86cfc4" stroke-width="1.5000000000000002" /></g>
<!-- blue tumour cells with Gal-9 -->
<g stroke="#86cc88" stroke-width="2" stroke-linecap="round"><path d="M803,350 L814,338"/><path d="M899,332 L913,339"/><path d="M868,390 L876,402"/></g>
<circle cx="798.5" cy="354.5" r="6.3" fill="url(#gbG)"/><circle cx="917" cy="340.5" r="7" fill="url(#gbG)"/><circle cx="878" cy="405" r="5.2" fill="url(#gbG)"/>
<path d="M862.1,317.7 Q865.1,321.5 864.4,325.9 Q863.7,330.3 859.8,333.1 Q855.8,336.0 853.2,338.9 Q850.6,341.9 847.9,345.6 Q845.3,349.4 840.8,350.4 Q836.3,351.4 831.7,351.2 Q827.2,351.0 823.2,349.0 Q819.2,347.0 815.1,345.4 Q811.0,343.8 808.1,340.6 Q805.1,337.5 803.3,333.6 Q801.5,329.8 802.0,325.6 Q802.5,321.5 802.4,317.5 Q802.3,313.4 804.2,309.8 Q806.1,306.1 808.4,302.4 Q810.6,298.8 814.2,295.8 Q817.7,292.9 822.3,291.8 Q827.0,290.6 831.5,291.6 Q836.1,292.6 840.3,294.0 Q844.5,295.4 847.8,297.9 Q851.2,300.4 853.5,303.8 Q855.7,307.1 857.4,310.5 Q859.1,314.0 862.1,317.7 Z" fill="#7db2e4"/><g clip-path="url(#bc6)"><path d="M856.1,314.6 Q859.1,319.5 856.2,324.5 Q853.2,329.4 850.5,334.3 Q847.8,339.1 842.2,341.2 Q836.6,343.2 830.5,344.0 Q824.4,344.7 819.3,341.5 Q814.3,338.3 809.8,334.5 Q805.3,330.7 805.3,325.1 Q805.3,319.5 805.2,313.8 Q805.0,308.2 809.6,304.4 Q814.3,300.7 819.7,298.7 Q825.0,296.8 830.8,296.5 Q836.5,296.3 842.1,298.2 Q847.6,300.1 850.4,304.9 Q853.2,309.6 856.1,314.6 Z" fill="#5d92ce" filter="url(#soft1)"/><g filter="url(#soft2)"><circle cx="849.4" cy="334.7" r="3.8" fill="#5688c6" opacity="0.5"/><circle cx="830.9" cy="343.1" r="3.9" fill="#4c76b2" opacity="0.5"/><circle cx="824.1" cy="305.3" r="3.8" fill="#8abdea" opacity="0.5"/><circle cx="844.0" cy="309.4" r="4.1" fill="#78ade2" opacity="0.5"/><circle cx="818.0" cy="307.4" r="4.7" fill="#5688c6" opacity="0.5"/><circle cx="823.5" cy="308.7" r="3.4" fill="#8abdea" opacity="0.5"/><circle cx="823.9" cy="333.5" r="5.6" fill="#5688c6" opacity="0.5"/><circle cx="816.1" cy="334.9" r="5.7" fill="#4c76b2" opacity="0.5"/><circle cx="849.9" cy="332.9" r="4.7" fill="#8abdea" opacity="0.5"/></g><ellipse cx="829.7" cy="319.5" rx="17.98" ry="16.82" fill="#48689f" opacity="0.8" filter="url(#soft4)"/><circle cx="830.2" cy="320.5" r="3.4" fill="#8fa9d4" opacity="0.6" filter="url(#soft1)"/></g><path d="M862.1,317.7 Q865.1,321.5 864.4,325.9 Q863.7,330.3 859.8,333.1 Q855.8,336.0 853.2,338.9 Q850.6,341.9 847.9,345.6 Q845.3,349.4 840.8,350.4 Q836.3,351.4 831.7,351.2 Q827.2,351.0 823.2,349.0 Q819.2,347.0 815.1,345.4 Q811.0,343.8 808.1,340.6 Q805.1,337.5 803.3,333.6 Q801.5,329.8 802.0,325.6 Q802.5,321.5 802.4,317.5 Q802.3,313.4 804.2,309.8 Q806.1,306.1 808.4,302.4 Q810.6,298.8 814.2,295.8 Q817.7,292.9 822.3,291.8 Q827.0,290.6 831.5,291.6 Q836.1,292.6 840.3,294.0 Q844.5,295.4 847.8,297.9 Q851.2,300.4 853.5,303.8 Q855.7,307.1 857.4,310.5 Q859.1,314.0 862.1,317.7 Z" fill="none" stroke="#3f70b6" stroke-width="0.8" opacity="0.5"/>
<path d="M901.2,318.8 Q900.9,323.0 900.2,326.9 Q899.5,330.8 898.7,334.7 Q897.8,338.7 895.3,341.3 Q892.8,344.0 890.0,345.9 Q887.2,347.9 884.3,349.8 Q881.4,351.7 877.9,353.0 Q874.3,354.3 870.9,352.7 Q867.5,351.2 864.5,348.8 Q861.6,346.3 860.2,342.2 Q858.8,338.2 856.8,334.8 Q854.8,331.4 854.9,327.2 Q854.9,323.0 855.6,319.1 Q856.3,315.2 857.7,311.6 Q859.2,308.1 861.1,305.0 Q863.0,301.8 865.2,298.0 Q867.3,294.2 870.8,293.2 Q874.4,292.2 878.0,292.2 Q881.6,292.3 885.0,293.5 Q888.5,294.8 890.7,298.3 Q892.9,301.9 895.2,304.7 Q897.5,307.6 899.5,311.0 Q901.5,314.5 901.2,318.8 Z" fill="#7db2e4"/><g clip-path="url(#bc7)"><path d="M897.9,315.3 Q898.8,321.0 896.7,326.1 Q894.7,331.2 892.3,335.9 Q890.0,340.5 885.8,342.8 Q881.6,345.1 876.8,345.9 Q872.1,346.7 868.2,343.4 Q864.3,340.0 861.4,335.9 Q858.5,331.7 857.3,326.3 Q856.1,321.0 857.4,315.7 Q858.7,310.4 861.1,305.5 Q863.4,300.5 867.8,298.0 Q872.2,295.6 877.0,295.8 Q881.7,296.1 885.4,299.5 Q889.1,302.8 893.0,306.2 Q896.9,309.5 897.9,315.3 Z" fill="#5d92ce" filter="url(#soft1)"/><g filter="url(#soft2)"><circle cx="887.1" cy="332.7" r="3.7" fill="#5688c6" opacity="0.5"/><circle cx="866.3" cy="306.0" r="3.6" fill="#5688c6" opacity="0.5"/><circle cx="863.3" cy="337.6" r="4.8" fill="#5688c6" opacity="0.5"/><circle cx="882.4" cy="340.2" r="3.3" fill="#8abdea" opacity="0.5"/><circle cx="891.8" cy="321.4" r="3.5" fill="#5688c6" opacity="0.5"/><circle cx="892.4" cy="315.1" r="4.8" fill="#78ade2" opacity="0.5"/><circle cx="891.1" cy="313.8" r="3.0" fill="#5688c6" opacity="0.5"/><circle cx="880.2" cy="302.4" r="3.2" fill="#78ade2" opacity="0.5"/><circle cx="858.9" cy="318.0" r="4.7" fill="#8abdea" opacity="0.5"/></g><ellipse cx="876" cy="321" rx="13.919999999999998" ry="17.11" fill="#48689f" opacity="0.8" filter="url(#soft4)"/><circle cx="876.5" cy="322" r="3.4" fill="#8fa9d4" opacity="0.6" filter="url(#soft1)"/></g><path d="M901.2,318.8 Q900.9,323.0 900.2,326.9 Q899.5,330.8 898.7,334.7 Q897.8,338.7 895.3,341.3 Q892.8,344.0 890.0,345.9 Q887.2,347.9 884.3,349.8 Q881.4,351.7 877.9,353.0 Q874.3,354.3 870.9,352.7 Q867.5,351.2 864.5,348.8 Q861.6,346.3 860.2,342.2 Q858.8,338.2 856.8,334.8 Q854.8,331.4 854.9,327.2 Q854.9,323.0 855.6,319.1 Q856.3,315.2 857.7,311.6 Q859.2,308.1 861.1,305.0 Q863.0,301.8 865.2,298.0 Q867.3,294.2 870.8,293.2 Q874.4,292.2 878.0,292.2 Q881.6,292.3 885.0,293.5 Q888.5,294.8 890.7,298.3 Q892.9,301.9 895.2,304.7 Q897.5,307.6 899.5,311.0 Q901.5,314.5 901.2,318.8 Z" fill="none" stroke="#3f70b6" stroke-width="0.8" opacity="0.5"/>
<path d="M887.2,361.9 Q887.0,366.0 886.1,369.8 Q885.3,373.6 882.9,376.8 Q880.6,380.0 879.1,384.0 Q877.6,388.1 872.7,388.5 Q867.7,388.9 863.9,391.1 Q860.2,393.2 855.5,394.1 Q850.9,395.1 847.2,392.1 Q843.5,389.2 839.2,388.1 Q834.9,387.0 831.8,384.1 Q828.7,381.2 828.3,377.2 Q827.8,373.1 826.3,369.6 Q824.8,366.0 824.6,362.0 Q824.4,358.0 826.9,354.6 Q829.4,351.3 831.8,347.8 Q834.3,344.4 838.8,343.4 Q843.4,342.4 847.4,341.2 Q851.4,340.0 855.7,340.3 Q859.9,340.6 864.3,340.8 Q868.8,341.0 873.3,342.3 Q877.8,343.7 880.2,347.3 Q882.6,350.9 885.0,354.4 Q887.3,357.9 887.2,361.9 Z" fill="#7db2e4"/><g clip-path="url(#bc8)"><path d="M880.3,358.8 Q880.7,364.0 880.7,369.3 Q880.6,374.6 876.6,378.9 Q872.6,383.2 866.5,384.1 Q860.3,385.0 854.4,386.3 Q848.4,387.6 842.8,385.1 Q837.3,382.6 833.5,378.4 Q829.7,374.3 829.6,369.1 Q829.5,364.0 829.3,358.8 Q829.2,353.5 833.6,349.9 Q838.1,346.2 843.3,343.4 Q848.4,340.5 854.6,340.9 Q860.8,341.4 866.5,343.3 Q872.2,345.3 876.0,349.5 Q879.9,353.7 880.3,358.8 Z" fill="#5d92ce" filter="url(#soft1)"/><g filter="url(#soft2)"><circle cx="838.9" cy="371.3" r="4.5" fill="#78ade2" opacity="0.5"/><circle cx="875.9" cy="376.7" r="5.0" fill="#8abdea" opacity="0.5"/><circle cx="849.5" cy="386.8" r="5.5" fill="#78ade2" opacity="0.5"/><circle cx="842.7" cy="356.5" r="4.0" fill="#5688c6" opacity="0.5"/><circle cx="852.3" cy="385.6" r="5.7" fill="#8abdea" opacity="0.5"/><circle cx="872.3" cy="351.8" r="5.3" fill="#5688c6" opacity="0.5"/><circle cx="837.3" cy="360.1" r="4.5" fill="#78ade2" opacity="0.5"/><circle cx="862.6" cy="387.4" r="6.0" fill="#8abdea" opacity="0.5"/><circle cx="838.9" cy="351.5" r="3.1" fill="#8abdea" opacity="0.5"/></g><ellipse cx="853.7" cy="364" rx="18.27" ry="15.95" fill="#48689f" opacity="0.8" filter="url(#soft4)"/><circle cx="854.2" cy="365" r="3.4" fill="#8fa9d4" opacity="0.6" filter="url(#soft1)"/></g><path d="M887.2,361.9 Q887.0,366.0 886.1,369.8 Q885.3,373.6 882.9,376.8 Q880.6,380.0 879.1,384.0 Q877.6,388.1 872.7,388.5 Q867.7,388.9 863.9,391.1 Q860.2,393.2 855.5,394.1 Q850.9,395.1 847.2,392.1 Q843.5,389.2 839.2,388.1 Q834.9,387.0 831.8,384.1 Q828.7,381.2 828.3,377.2 Q827.8,373.1 826.3,369.6 Q824.8,366.0 824.6,362.0 Q824.4,358.0 826.9,354.6 Q829.4,351.3 831.8,347.8 Q834.3,344.4 838.8,343.4 Q843.4,342.4 847.4,341.2 Q851.4,340.0 855.7,340.3 Q859.9,340.6 864.3,340.8 Q868.8,341.0 873.3,342.3 Q877.8,343.7 880.2,347.3 Q882.6,350.9 885.0,354.4 Q887.3,357.9 887.2,361.9 Z" fill="none" stroke="#3f70b6" stroke-width="0.8" opacity="0.5"/>
<g transform="translate(935 378.5) rotate(-45) scale(0.66 0.76)"><path d="M-2.3,0 L-2.6,-17 L2.6,-17 L2.3,0 Z" fill="#b160aa"/><rect x="-4.6" y="-11.5" width="4" height="3.2" rx="0.8" fill="#b160aa"/><path d="M-10.5,-35 C-12.5,-24 -7,-15.2 0,-15.2 C7,-15.2 12.5,-24 10.5,-35 L7.4,-33.5 C7,-28 4,-24.6 0,-24.6 C-4,-24.6 -7,-28 -7.4,-33.5 Z" fill="#b160aa"/></g>
<g transform="translate(907 359) rotate(51) scale(0.8)"><line x1="-1.25" y1="1" x2="-1.25" y2="21" stroke="#5fb8ac" stroke-width="2.7" /><line x1="-1.25" y1="1" x2="-1.25" y2="21" stroke="#86cfc4" stroke-width="1.5000000000000002" /><line x1="1.25" y1="1" x2="1.25" y2="21" stroke="#5fb8ac" stroke-width="2.7" /><line x1="1.25" y1="1" x2="1.25" y2="21" stroke="#86cfc4" stroke-width="1.5000000000000002" /><line x1="-0.8" y1="1.5" x2="-11" y2="-10.5" stroke="#5fb8ac" stroke-width="2.7" /><line x1="-0.8" y1="1.5" x2="-11" y2="-10.5" stroke="#86cfc4" stroke-width="1.5000000000000002" /><line x1="-3.2" y1="3.6" x2="-13.2" y2="-8" stroke="#5fb8ac" stroke-width="2.7" /><line x1="-3.2" y1="3.6" x2="-13.2" y2="-8" stroke="#86cfc4" stroke-width="1.5000000000000002" /><line x1="0.8" y1="1.5" x2="11" y2="-10.5" stroke="#5fb8ac" stroke-width="2.7" /><line x1="0.8" y1="1.5" x2="11" y2="-10.5" stroke="#86cfc4" stroke-width="1.5000000000000002" /><line x1="3.2" y1="3.6" x2="13.2" y2="-8" stroke="#5fb8ac" stroke-width="2.7" /><line x1="3.2" y1="3.6" x2="13.2" y2="-8" stroke="#86cfc4" stroke-width="1.5000000000000002" /></g>
<g transform="translate(966 389.5) rotate(90) scale(0.66 0.76)"><path d="M-2.3,0 L-2.6,-17 L2.6,-17 L2.3,0 Z" fill="#b160aa"/><rect x="-4.6" y="-11.5" width="4" height="3.2" rx="0.8" fill="#b160aa"/><path d="M-10.5,-35 C-12.5,-24 -7,-15.2 0,-15.2 C7,-15.2 12.5,-24 10.5,-35 L7.4,-33.5 C7,-28 4,-24.6 0,-24.6 C-4,-24.6 -7,-28 -7.4,-33.5 Z" fill="#b160aa"/></g>
<g transform="translate(996.5 395) rotate(-114) scale(0.8)"><line x1="-1.25" y1="1" x2="-1.25" y2="21" stroke="#5fb8ac" stroke-width="2.7" /><line x1="-1.25" y1="1" x2="-1.25" y2="21" stroke="#86cfc4" stroke-width="1.5000000000000002" /><line x1="1.25" y1="1" x2="1.25" y2="21" stroke="#5fb8ac" stroke-width="2.7" /><line x1="1.25" y1="1" x2="1.25" y2="21" stroke="#86cfc4" stroke-width="1.5000000000000002" /><line x1="-0.8" y1="1.5" x2="-11" y2="-10.5" stroke="#5fb8ac" stroke-width="2.7" /><line x1="-0.8" y1="1.5" x2="-11" y2="-10.5" stroke="#86cfc4" stroke-width="1.5000000000000002" /><line x1="-3.2" y1="3.6" x2="-13.2" y2="-8" stroke="#5fb8ac" stroke-width="2.7" /><line x1="-3.2" y1="3.6" x2="-13.2" y2="-8" stroke="#86cfc4" stroke-width="1.5000000000000002" /><line x1="0.8" y1="1.5" x2="11" y2="-10.5" stroke="#5fb8ac" stroke-width="2.7" /><line x1="0.8" y1="1.5" x2="11" y2="-10.5" stroke="#86cfc4" stroke-width="1.5000000000000002" /><line x1="3.2" y1="3.6" x2="13.2" y2="-8" stroke="#5fb8ac" stroke-width="2.7" /><line x1="3.2" y1="3.6" x2="13.2" y2="-8" stroke="#86cfc4" stroke-width="1.5000000000000002" /></g>
<g transform="translate(899 421) rotate(-58) scale(0.66 0.76)"><path d="M-2.3,0 L-2.6,-17 L2.6,-17 L2.3,0 Z" fill="#b160aa"/><rect x="-4.6" y="-11.5" width="4" height="3.2" rx="0.8" fill="#b160aa"/><path d="M-10.5,-35 C-12.5,-24 -7,-15.2 0,-15.2 C7,-15.2 12.5,-24 10.5,-35 L7.4,-33.5 C7,-28 4,-24.6 0,-24.6 C-4,-24.6 -7,-28 -7.4,-33.5 Z" fill="#b160aa"/></g>
<g transform="translate(906 443) rotate(-130) scale(0.66 0.76)"><path d="M-2.3,0 L-2.6,-17 L2.6,-17 L2.3,0 Z" fill="#b160aa"/><rect x="-4.6" y="-11.5" width="4" height="3.2" rx="0.8" fill="#b160aa"/><path d="M-10.5,-35 C-12.5,-24 -7,-15.2 0,-15.2 C7,-15.2 12.5,-24 10.5,-35 L7.4,-33.5 C7,-28 4,-24.6 0,-24.6 C-4,-24.6 -7,-28 -7.4,-33.5 Z" fill="#b160aa"/></g>
<g transform="translate(878 466) rotate(113) scale(0.8)"><line x1="-1.25" y1="1" x2="-1.25" y2="21" stroke="#5fb8ac" stroke-width="2.7" /><line x1="-1.25" y1="1" x2="-1.25" y2="21" stroke="#86cfc4" stroke-width="1.5000000000000002" /><line x1="1.25" y1="1" x2="1.25" y2="21" stroke="#5fb8ac" stroke-width="2.7" /><line x1="1.25" y1="1" x2="1.25" y2="21" stroke="#86cfc4" stroke-width="1.5000000000000002" /><line x1="-0.8" y1="1.5" x2="-11" y2="-10.5" stroke="#5fb8ac" stroke-width="2.7" /><line x1="-0.8" y1="1.5" x2="-11" y2="-10.5" stroke="#86cfc4" stroke-width="1.5000000000000002" /><line x1="-3.2" y1="3.6" x2="-13.2" y2="-8" stroke="#5fb8ac" stroke-width="2.7" /><line x1="-3.2" y1="3.6" x2="-13.2" y2="-8" stroke="#86cfc4" stroke-width="1.5000000000000002" /><line x1="0.8" y1="1.5" x2="11" y2="-10.5" stroke="#5fb8ac" stroke-width="2.7" /><line x1="0.8" y1="1.5" x2="11" y2="-10.5" stroke="#86cfc4" stroke-width="1.5000000000000002" /><line x1="3.2" y1="3.6" x2="13.2" y2="-8" stroke="#5fb8ac" stroke-width="2.7" /><line x1="3.2" y1="3.6" x2="13.2" y2="-8" stroke="#86cfc4" stroke-width="1.5000000000000002" /></g>
<g stroke="#c9302c" stroke-width="2.2" stroke-linecap="round"><path d="M862,403.5 L900,409.5"/><path d="M882.5,388 L876.5,426"/></g>
<!-- black curved arrow -->
<path d="M752.5,332 C743,360 749,386 779,397.5" stroke="#111" stroke-width="5.4" fill="none"/>
<path d="M794,400.5 L776,388 L779,397.5 L773,408.5 Z" fill="#111"/>
<!-- distant tumour -->
<path d="M688.8,456.6 L716.6,458.8 L734.9,470.6 L734.5,493.3 L724.5,511.0 L702.7,523.2 L681.0,526.7 L665.6,514.5 L653.5,494.8 L653.5,477.7 L665.6,465.8 Z" fill="#335f9f" stroke="#335f9f" stroke-width="9" stroke-linejoin="round" opacity="0.95" filter="url(#soft1)"/>
<g filter="url(#soft)"><circle cx="689.5" cy="458.6" r="7.7" fill="#2c5896" opacity="0.55"/><circle cx="689.5" cy="458.6" r="7.1" fill="url(#tbG2)"/><circle cx="673.5" cy="464.6" r="7.8" fill="#2c5896" opacity="0.55"/><circle cx="673.5" cy="464.6" r="7.2" fill="url(#tbG2)"/><circle cx="699.4" cy="457.9" r="7.5" fill="#2c5896" opacity="0.55"/><circle cx="699.4" cy="457.9" r="6.9" fill="url(#tbG2)"/><circle cx="665.5" cy="468.5" r="6.6" fill="#2c5896" opacity="0.55"/><circle cx="665.5" cy="468.5" r="6.0" fill="url(#tbG2)"/><circle cx="682.9" cy="466.5" r="9.1" fill="#2c5896" opacity="0.55"/><circle cx="682.9" cy="466.5" r="8.5" fill="url(#tbG2)"/><circle cx="711.6" cy="458.9" r="6.3" fill="#2c5896" opacity="0.55"/><circle cx="711.6" cy="458.9" r="5.7" fill="url(#tbG2)"/><circle cx="660.6" cy="475.9" r="6.6" fill="#2c5896" opacity="0.55"/><circle cx="660.6" cy="475.9" r="6.0" fill="url(#tbG2)"/><circle cx="671.3" cy="474.3" r="8.0" fill="#2c5896" opacity="0.55"/><circle cx="671.3" cy="474.3" r="7.4" fill="url(#tbG2)"/><circle cx="693.0" cy="468.1" r="9.7" fill="#2c5896" opacity="0.55"/><circle cx="693.0" cy="468.1" r="9.1" fill="url(#tbG2)"/><circle cx="707.0" cy="465.2" r="6.9" fill="#2c5896" opacity="0.55"/><circle cx="707.0" cy="465.2" r="6.3" fill="url(#tbG2)"/><circle cx="654.1" cy="481.4" r="8.1" fill="#2c5896" opacity="0.55"/><circle cx="654.1" cy="481.4" r="7.5" fill="url(#tbG2)"/><circle cx="719.9" cy="462.1" r="6.8" fill="#2c5896" opacity="0.55"/><circle cx="719.9" cy="462.1" r="6.2" fill="url(#tbG2)"/><circle cx="679.7" cy="478.8" r="6.6" fill="#2c5896" opacity="0.55"/><circle cx="679.7" cy="478.8" r="6.0" fill="url(#tbG2)"/><circle cx="712.8" cy="471.9" r="10.4" fill="#2c5896" opacity="0.55"/><circle cx="712.8" cy="471.9" r="9.8" fill="url(#tbG2)"/><circle cx="669.5" cy="485.6" r="9.0" fill="#2c5896" opacity="0.55"/><circle cx="669.5" cy="485.6" r="8.4" fill="url(#tbG2)"/><circle cx="723.8" cy="469.5" r="7.1" fill="#2c5896" opacity="0.55"/><circle cx="723.8" cy="469.5" r="6.5" fill="url(#tbG2)"/><circle cx="658.0" cy="490.0" r="9.8" fill="#2c5896" opacity="0.55"/><circle cx="658.0" cy="490.0" r="9.2" fill="url(#tbG2)"/><circle cx="704.0" cy="476.6" r="6.1" fill="#2c5896" opacity="0.55"/><circle cx="704.0" cy="476.6" r="5.5" fill="url(#tbG2)"/><circle cx="677.5" cy="485.1" r="6.3" fill="#2c5896" opacity="0.55"/><circle cx="677.5" cy="485.1" r="5.7" fill="url(#tbG2)"/><circle cx="690.2" cy="482.4" r="10.6" fill="#2c5896" opacity="0.55"/><circle cx="690.2" cy="482.4" r="10.0" fill="url(#tbG2)"/><circle cx="729.2" cy="475.9" r="8.5" fill="#2c5896" opacity="0.55"/><circle cx="729.2" cy="475.9" r="7.9" fill="url(#tbG2)"/><circle cx="684.6" cy="489.4" r="6.5" fill="#2c5896" opacity="0.55"/><circle cx="684.6" cy="489.4" r="5.9" fill="url(#tbG2)"/><circle cx="678.2" cy="491.8" r="6.6" fill="#2c5896" opacity="0.55"/><circle cx="678.2" cy="491.8" r="6.0" fill="url(#tbG2)"/><circle cx="704.9" cy="485.8" r="8.7" fill="#2c5896" opacity="0.55"/><circle cx="704.9" cy="485.8" r="8.1" fill="url(#tbG2)"/><circle cx="719.6" cy="481.5" r="7.2" fill="#2c5896" opacity="0.55"/><circle cx="719.6" cy="481.5" r="6.6" fill="url(#tbG2)"/><circle cx="658.3" cy="500.8" r="6.5" fill="#2c5896" opacity="0.55"/><circle cx="658.3" cy="500.8" r="5.9" fill="url(#tbG2)"/><circle cx="698.0" cy="490.3" r="7.3" fill="#2c5896" opacity="0.55"/><circle cx="698.0" cy="490.3" r="6.7" fill="url(#tbG2)"/><circle cx="665.6" cy="500.2" r="7.3" fill="#2c5896" opacity="0.55"/><circle cx="665.6" cy="500.2" r="6.7" fill="url(#tbG2)"/><circle cx="713.4" cy="486.6" r="6.3" fill="#2c5896" opacity="0.55"/><circle cx="713.4" cy="486.6" r="5.7" fill="url(#tbG2)"/><circle cx="675.6" cy="500.2" r="6.7" fill="#2c5896" opacity="0.55"/><circle cx="675.6" cy="500.2" r="6.1" fill="url(#tbG2)"/><circle cx="690.4" cy="496.4" r="7.6" fill="#2c5896" opacity="0.55"/><circle cx="690.4" cy="496.4" r="7.0" fill="url(#tbG2)"/><circle cx="682.4" cy="499.2" r="6.4" fill="#2c5896" opacity="0.55"/><circle cx="682.4" cy="499.2" r="5.8" fill="url(#tbG2)"/><circle cx="733.0" cy="484.4" r="7.7" fill="#2c5896" opacity="0.55"/><circle cx="733.0" cy="484.4" r="7.1" fill="url(#tbG2)"/><circle cx="662.2" cy="507.9" r="9.0" fill="#2c5896" opacity="0.55"/><circle cx="662.2" cy="507.9" r="8.4" fill="url(#tbG2)"/><circle cx="714.5" cy="494.2" r="8.6" fill="#2c5896" opacity="0.55"/><circle cx="714.5" cy="494.2" r="8.0" fill="url(#tbG2)"/><circle cx="672.0" cy="507.3" r="7.4" fill="#2c5896" opacity="0.55"/><circle cx="672.0" cy="507.3" r="6.8" fill="url(#tbG2)"/><circle cx="697.8" cy="499.7" r="6.5" fill="#2c5896" opacity="0.55"/><circle cx="697.8" cy="499.7" r="5.9" fill="url(#tbG2)"/><circle cx="725.2" cy="493.0" r="8.4" fill="#2c5896" opacity="0.55"/><circle cx="725.2" cy="493.0" r="7.8" fill="url(#tbG2)"/><circle cx="682.7" cy="507.4" r="9.1" fill="#2c5896" opacity="0.55"/><circle cx="682.7" cy="507.4" r="8.5" fill="url(#tbG2)"/><circle cx="692.8" cy="504.9" r="6.2" fill="#2c5896" opacity="0.55"/><circle cx="692.8" cy="504.9" r="5.6" fill="url(#tbG2)"/><circle cx="706.1" cy="501.0" r="9.5" fill="#2c5896" opacity="0.55"/><circle cx="706.1" cy="501.0" r="8.9" fill="url(#tbG2)"/><circle cx="733.7" cy="493.2" r="6.7" fill="#2c5896" opacity="0.55"/><circle cx="733.7" cy="493.2" r="6.1" fill="url(#tbG2)"/><circle cx="673.0" cy="514.5" r="6.1" fill="#2c5896" opacity="0.55"/><circle cx="673.0" cy="514.5" r="5.5" fill="url(#tbG2)"/><circle cx="722.4" cy="502.7" r="9.5" fill="#2c5896" opacity="0.55"/><circle cx="722.4" cy="502.7" r="8.9" fill="url(#tbG2)"/><circle cx="697.5" cy="511.2" r="6.2" fill="#2c5896" opacity="0.55"/><circle cx="697.5" cy="511.2" r="5.6" fill="url(#tbG2)"/><circle cx="690.5" cy="514.1" r="6.3" fill="#2c5896" opacity="0.55"/><circle cx="690.5" cy="514.1" r="5.7" fill="url(#tbG2)"/><circle cx="714.5" cy="507.4" r="7.2" fill="#2c5896" opacity="0.55"/><circle cx="714.5" cy="507.4" r="6.6" fill="url(#tbG2)"/><circle cx="705.4" cy="510.2" r="7.3" fill="#2c5896" opacity="0.55"/><circle cx="705.4" cy="510.2" r="6.7" fill="url(#tbG2)"/><circle cx="682.3" cy="519.4" r="8.3" fill="#2c5896" opacity="0.55"/><circle cx="682.3" cy="519.4" r="7.7" fill="url(#tbG2)"/><circle cx="693.4" cy="520.3" r="6.3" fill="#2c5896" opacity="0.55"/><circle cx="693.4" cy="520.3" r="5.7" fill="url(#tbG2)"/><circle cx="722.6" cy="511.7" r="6.5" fill="#2c5896" opacity="0.55"/><circle cx="722.6" cy="511.7" r="5.9" fill="url(#tbG2)"/><circle cx="716.6" cy="515.2" r="7.1" fill="#2c5896" opacity="0.55"/><circle cx="716.6" cy="515.2" r="6.5" fill="url(#tbG2)"/><circle cx="706.2" cy="519.3" r="10.4" fill="#2c5896" opacity="0.55"/><circle cx="706.2" cy="519.3" r="9.8" fill="url(#tbG2)"/></g>
<g stroke="#c4505f" stroke-width="2.4" fill="none" stroke-linecap="round" stroke-linejoin="round" opacity="0.95" filter="url(#soft)"><path d="M741,466.8 C735,469 730,471 725.7,474 C720,478 716,482 711.4,484.6 C707,487 703,488.5 699,490 C694,492 689,494.5 684.6,497 C678,500.5 672,503.5 666.8,506"/><path d="M711.4,484.6 C710,490 709.6,496 709.6,502.5 C709.5,509 709,515 707.9,520.4 C707,523 705.5,525.5 704.3,527.5"/><path d="M693.6,451.6 C693,456 691.5,459.5 690,463.2 C688.5,467 687,471.5 686.4,475.7 C686,481 688.5,485 691.8,488.2" stroke-width="2"/><path d="M736.4,470.4 C738.5,478 740,486 740,493.6 C739,500 736,506 732.9,511.4" stroke-width="1.8"/><path d="M650.7,477.5 C655,475 659,474 663.2,474 C668,474.5 672,476.5 675.7,477.5 C679.5,478 683,477 686.4,475.7" stroke-width="1.8"/><path d="M693.6,451.6 C697,451 699.5,453 699,457 C698.5,461 696,464 693,467" stroke-width="1.6"/><path d="M725.7,474 C724,470 722,467 719,465" stroke-width="1.6"/></g>
<!-- labels -->
<text x="10" y="37" font-size="19.5" font-weight="bold" text-anchor="start" fill="#1a1a1a">(a)</text>
<text x="10" y="302.5" font-size="19.5" font-weight="bold" text-anchor="start" fill="#1a1a1a">(b)</text>
<text x="31" y="84" font-size="15" font-weight="bold" text-anchor="start" fill="#1a1a1a">Fe<tspan dy="-5" font-size="8.5">3+</tspan><tspan dy="5" font-size="1">&#8203;</tspan></text>
<text x="83.5" y="83" font-size="12" font-weight="bold" text-anchor="middle" fill="#1a1a1a">+</text>
<text x="228" y="62.5" font-size="11" font-weight="bold" text-anchor="middle" fill="#1a1a1a">Pt NPs</text>
<text x="291.7" y="33.5" font-size="15.5" font-weight="bold" text-anchor="middle" fill="#1a1a1a">FTP</text>
<text x="413.5" y="31" font-size="15.5" font-weight="bold" text-anchor="middle" fill="#1a1a1a">FTP@RBCM</text>
<text x="174.5" y="157" font-size="12.5" font-weight="bold" text-anchor="middle" fill="#1a1a1a">Hypertonic</text>
<text x="174.5" y="171" font-size="12.5" font-weight="bold" text-anchor="middle" fill="#1a1a1a">treatment</text>
<text x="86.5" y="221.5" font-size="15.5" font-weight="bold" text-anchor="middle" fill="#1a1a1a">Red blood cells</text>
<text x="259" y="222" font-size="15.5" font-weight="bold" text-anchor="middle" fill="#1a1a1a">RBCM</text>
<text x="353.5" y="229.5" font-size="15.5" font-weight="bold" text-anchor="middle" fill="#1a1a1a">670 nm laser</text>
<text x="117.5" y="501" font-size="15.5" font-weight="bold" text-anchor="middle" fill="#1a1a1a">Primary tumor</text>
<text x="510.5" y="207.5" font-size="15" font-weight="bold" text-anchor="middle" fill="#1a1a1a" transform="rotate(-48 510.5 207.5)">ICD</text>
<text x="544" y="78" font-size="15.5" font-weight="bold" text-anchor="start" fill="#1a1a1a">TAAs</text>
<text x="543" y="97" font-size="15.5" font-weight="bold" text-anchor="start" fill="#1a1a1a">DAMPs</text>
<text x="670" y="92" font-size="15.5" font-weight="bold" text-anchor="middle" fill="#1a1a1a" transform="rotate(-9 670 92)">Stimulus</text>
<text x="776" y="52.5" font-size="15.5" font-weight="bold" text-anchor="middle" fill="#1a1a1a">mDCs</text>
<text x="890" y="98" font-size="15.5" font-weight="bold" text-anchor="middle" fill="#1a1a1a" transform="rotate(31 890 98)">Antigen</text>
<text x="877" y="111" font-size="15.5" font-weight="bold" text-anchor="middle" fill="#1a1a1a" transform="rotate(31 877 111)">presentation</text>
<text x="941" y="246" font-size="15.5" font-weight="bold" text-anchor="middle" fill="#1a1a1a">Activated T cells</text>
<text x="738" y="248" font-size="15.5" font-weight="bold" text-anchor="middle" fill="#1a1a1a">anti-Tim3 antibody</text>
<text x="928.5" y="329" font-size="15.5" font-weight="bold" text-anchor="middle" fill="#1a1a1a">Gal-9</text>
<text x="991" y="376" font-size="15.5" font-weight="bold" text-anchor="middle" fill="#1a1a1a">Tim-3</text>
<text x="829.5" y="420" font-size="15.5" font-weight="bold" text-anchor="middle" fill="#1a1a1a">Blockade</text>
<text x="643" y="425.5" font-size="15.5" font-weight="bold" text-anchor="start" fill="#1a1a1a">Inhibition of</text>
<text x="643" y="442.5" font-size="15.5" font-weight="bold" text-anchor="start" fill="#1a1a1a">distant tumor</text>
<path d="M603,93.5 V70" stroke="#222" stroke-width="1.1" fill="none"/><path d="M603,67 L600.3,73.2 L603,72 L605.7,73.2 Z" fill="#222"/>
<text x="344" y="313" font-size="11.5" font-weight="bold" text-anchor="start" fill="#1f1f24">H<tspan dy="2.5" font-size="7">2</tspan><tspan dy="-2.5" font-size="1">&#8203;</tspan>O<tspan dy="2.5" font-size="7">2</tspan><tspan dy="-2.5" font-size="1">&#8203;</tspan></text>
<text x="381" y="332" font-size="11.5" font-weight="normal" text-anchor="start" fill="#5a1a12" stroke="#5a1a12" stroke-width="0.35">Pt</text>
<text x="415.5" y="331" font-size="11.5" font-weight="bold" text-anchor="start" fill="#6a2216">O<tspan dy="2.5" font-size="7">2</tspan><tspan dy="-2.5" font-size="1">&#8203;</tspan></text>
<text x="411.2" y="308.5" font-size="8.5" font-weight="bold" text-anchor="start" fill="#4a1c14">O<tspan dy="1.8" font-size="5">2</tspan><tspan dy="-1.8" font-size="1">&#8203;</tspan></text>
<text x="436.4" y="311.8" font-size="8.5" font-weight="bold" text-anchor="start" fill="#4a1c14">O<tspan dy="1.8" font-size="5">2</tspan><tspan dy="-1.8" font-size="1">&#8203;</tspan></text>
<text x="349.8" y="376" font-size="11.5" font-weight="bold" text-anchor="start" fill="#1f1f24">GSH</text>
<text x="341.3" y="419" font-size="11.5" font-weight="bold" text-anchor="start" fill="#1f1f24">GSSH</text>
<text x="411" y="378.5" font-size="11.5" font-weight="normal" text-anchor="start" fill="#1f1f24" stroke="#1f1f24" stroke-width="0.3">Fe<tspan dy="-4" font-size="6">3+</tspan><tspan dy="4" font-size="1">&#8203;</tspan></text>
<text x="409.8" y="415" font-size="11.5" font-weight="normal" text-anchor="start" fill="#1f1f24" stroke="#1f1f24" stroke-width="0.3">Fe<tspan dy="-4" font-size="6">2+</tspan><tspan dy="4" font-size="1">&#8203;</tspan></text>
<text x="452" y="429" font-size="11.5" font-weight="bold" text-anchor="start" fill="#1f1f24">H<tspan dy="2.5" font-size="7">2</tspan><tspan dy="-2.5" font-size="1">&#8203;</tspan>O<tspan dy="2.5" font-size="7">2</tspan><tspan dy="-2.5" font-size="1">&#8203;</tspan></text>
<text x="473.6" y="331" font-size="15.5" font-weight="bold" text-anchor="start" fill="#10240f"><tspan dy="-4.5" font-size="8.5">1</tspan><tspan dy="4.5" font-size="1">&#8203;</tspan>O<tspan dy="3.2" font-size="8.5">2</tspan><tspan dy="-3.2" font-size="1">&#8203;</tspan></text>
<text x="494.6" y="310.5" font-size="9.5" font-weight="bold" text-anchor="start" fill="#12351a"><tspan dy="-3" font-size="5.5">1</tspan><tspan dy="3" font-size="1">&#8203;</tspan>O<tspan dy="1.8" font-size="5.5">2</tspan><tspan dy="-1.8" font-size="1">&#8203;</tspan></text>
<text x="491.6" y="350" font-size="9.5" font-weight="bold" text-anchor="start" fill="#12351a"><tspan dy="-3" font-size="5.5">1</tspan><tspan dy="3" font-size="1">&#8203;</tspan>O<tspan dy="1.8" font-size="5.5">2</tspan><tspan dy="-1.8" font-size="1">&#8203;</tspan></text>
<text x="473.5" y="385.5" font-size="12" font-weight="bold" text-anchor="start" fill="#0d3e66">·OH</text>
<text x="493.5" y="405.5" font-size="7.5" font-weight="bold" text-anchor="start" fill="#0d5a8c">·OH</text>
</g>
</svg>
</body></html>
